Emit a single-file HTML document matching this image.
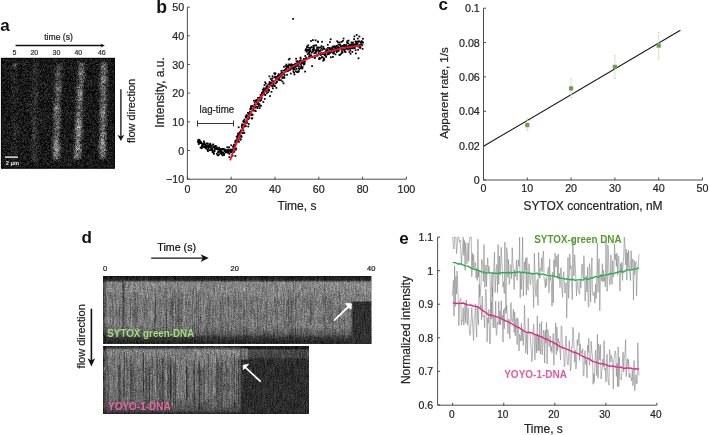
<!DOCTYPE html>
<html><head><meta charset="utf-8"><title>Figure</title>
<style>html,body{margin:0;padding:0;background:#fff;}svg{display:block;}text{font-family:"Liberation Sans", sans-serif;}</style>
</head><body>
<svg width="709" height="435" viewBox="0 0 709 435">
<defs>
<filter id="blr" x="-100%" y="-20%" width="300%" height="140%"><feGaussianBlur stdDeviation="1.8"/></filter>
<filter id="nzA" x="0" y="0" width="1" height="1" color-interpolation-filters="sRGB">
 <feTurbulence type="fractalNoise" baseFrequency="2.3" numOctaves="1" seed="4" result="t"/>
 <feGaussianBlur in="t" stdDeviation="0.65" result="tb"/>
 <feColorMatrix in="tb" type="matrix" values="1 0 0 0 0  1 0 0 0 0  1 0 0 0 0  0 0 0 0 1" result="g"/>
 <feComposite in="SourceGraphic" in2="g" operator="arithmetic" k1="1.6" k2="0.2" k3="0.5" k4="-0.25"/>
</filter>
<filter id="nzK" x="0" y="0" width="1" height="1" color-interpolation-filters="sRGB">
 <feTurbulence type="fractalNoise" baseFrequency="2.3" numOctaves="1" seed="9" result="t"/>
 <feGaussianBlur in="t" stdDeviation="0.75" result="tb"/>
 <feTurbulence type="fractalNoise" baseFrequency="1.9 0.12" numOctaves="1" seed="3" result="t2"/>
 <feComposite in="tb" in2="t2" operator="arithmetic" k1="0" k2="0.6" k3="0.4" k4="0" result="tm"/>
 <feColorMatrix in="tm" type="matrix" values="1 0 0 0 0  1 0 0 0 0  1 0 0 0 0  0 0 0 0 1" result="g"/>
 <feComposite in="SourceGraphic" in2="g" operator="arithmetic" k1="1.0" k2="0.5" k3="0.4" k4="-0.2"/>
</filter>
<linearGradient id="gTop" x1="0" y1="0" x2="0" y2="1"><stop offset="0" stop-color="#000" stop-opacity="0.8"/><stop offset="0.65" stop-color="#000" stop-opacity="0.68"/><stop offset="1" stop-color="#000" stop-opacity="0.1"/></linearGradient>
<linearGradient id="gBot" x1="0" y1="0" x2="0" y2="1"><stop offset="0" stop-color="#000" stop-opacity="0"/><stop offset="0.45" stop-color="#000" stop-opacity="0.25"/><stop offset="0.65" stop-color="#000" stop-opacity="0.55"/><stop offset="1" stop-color="#000" stop-opacity="0.75"/></linearGradient>
<linearGradient id="gUp" x1="0" y1="0" x2="0" y2="1"><stop offset="0" stop-color="#fff" stop-opacity="0.1"/><stop offset="0.6" stop-color="#fff" stop-opacity="0.06"/><stop offset="1" stop-color="#fff" stop-opacity="0"/></linearGradient>
<linearGradient id="gUp2" x1="0" y1="0" x2="0" y2="1"><stop offset="0" stop-color="#fff" stop-opacity="0.12"/><stop offset="1" stop-color="#fff" stop-opacity="0"/></linearGradient>
<linearGradient id="gTop2" x1="0" y1="0" x2="0" y2="1"><stop offset="0" stop-color="#000" stop-opacity="0.75"/><stop offset="1" stop-color="#000" stop-opacity="0"/></linearGradient>
<linearGradient id="gBot2" x1="0" y1="0" x2="0" y2="1"><stop offset="0" stop-color="#000" stop-opacity="0"/><stop offset="0.8" stop-color="#000" stop-opacity="0.35"/><stop offset="1" stop-color="#000" stop-opacity="0.7"/></linearGradient>
<linearGradient id="gTop3" x1="0" y1="0" x2="0" y2="1"><stop offset="0" stop-color="#1a1a1a"/><stop offset="0.18" stop-color="#1e1e1e"/><stop offset="0.3" stop-color="#484848"/><stop offset="0.85" stop-color="#444"/><stop offset="1" stop-color="#2c2c2c"/></linearGradient>
</defs>
<rect width="709" height="435" fill="#fff"/>
<g id="pa">
<text x="0.30" y="31.00" font-size="17" text-anchor="start" font-weight="bold" fill="#111" >a</text>
<text x="58.50" y="40.20" font-size="8.6" text-anchor="middle" font-weight="normal" fill="#222" stroke="#222" stroke-width="0.22" >time (s)</text>
<line x1="15.60" y1="45.50" x2="102.00" y2="45.50" stroke="#111" stroke-width="1.3" />
<path d="M104.8,45.5 L100.6,43.5 L101.8,45.5 L100.6,47.5 Z" fill="#111"/>
<text x="14.50" y="55.20" font-size="7" text-anchor="middle" font-weight="normal" fill="#333" stroke="#333" stroke-width="0.22" >5</text>
<text x="34.30" y="55.20" font-size="7" text-anchor="middle" font-weight="normal" fill="#333" stroke="#333" stroke-width="0.22" >20</text>
<text x="56.40" y="55.20" font-size="7" text-anchor="middle" font-weight="normal" fill="#333" stroke="#333" stroke-width="0.22" >30</text>
<text x="78.30" y="55.20" font-size="7" text-anchor="middle" font-weight="normal" fill="#333" stroke="#333" stroke-width="0.22" >40</text>
<text x="101.80" y="55.20" font-size="7" text-anchor="middle" font-weight="normal" fill="#333" stroke="#333" stroke-width="0.22" >46</text>
<g filter="url(#nzA)">
<rect x="1.3" y="58.2" width="113.3" height="110.0" fill="#181818"/>
<path d="M13.1,68.0 L17.1,68.0 L17.0,75.5 L13.0,75.5 Z" fill="rgb(34,34,34)" filter="url(#blr)"/>
<path d="M12.9,74.9 L16.9,74.9 L16.9,82.5 L12.9,82.5 Z" fill="rgb(37,37,37)" filter="url(#blr)"/>
<path d="M13.0,81.9 L17.0,81.9 L17.0,89.4 L13.0,89.4 Z" fill="rgb(36,36,36)" filter="url(#blr)"/>
<path d="M12.9,88.8 L16.9,88.8 L16.9,96.3 L12.9,96.3 Z" fill="rgb(35,35,35)" filter="url(#blr)"/>
<path d="M13.2,95.7 L17.2,95.7 L17.1,103.2 L13.1,103.2 Z" fill="rgb(37,37,37)" filter="url(#blr)"/>
<path d="M12.6,102.6 L16.6,102.6 L16.6,110.2 L12.6,110.2 Z" fill="rgb(36,36,36)" filter="url(#blr)"/>
<path d="M13.1,109.6 L17.1,109.6 L17.1,117.1 L13.1,117.1 Z" fill="rgb(36,36,36)" filter="url(#blr)"/>
<path d="M12.3,116.5 L16.3,116.5 L16.3,124.0 L12.3,124.0 Z" fill="rgb(40,40,40)" filter="url(#blr)"/>
<path d="M13.2,123.4 L17.2,123.4 L17.1,131.0 L13.1,131.0 Z" fill="rgb(42,42,42)" filter="url(#blr)"/>
<path d="M12.8,130.4 L16.8,130.4 L16.8,137.9 L12.8,137.9 Z" fill="rgb(41,41,41)" filter="url(#blr)"/>
<path d="M12.2,137.3 L16.2,137.3 L16.1,144.8 L12.1,144.8 Z" fill="rgb(38,38,38)" filter="url(#blr)"/>
<path d="M12.2,144.2 L16.2,144.2 L16.1,151.7 L12.1,151.7 Z" fill="rgb(41,41,41)" filter="url(#blr)"/>
<path d="M12.3,151.1 L16.3,151.1 L16.3,158.7 L12.3,158.7 Z" fill="rgb(39,39,39)" filter="url(#blr)"/>
<path d="M12.5,158.1 L16.5,158.1 L16.5,165.6 L12.5,165.6 Z" fill="rgb(38,38,38)" filter="url(#blr)"/>
<path d="M32.7,62.0 L37.9,62.0 L37.9,69.6 L32.7,69.6 Z" fill="rgb(45,45,45)" filter="url(#blr)"/>
<path d="M32.5,69.0 L37.7,69.0 L37.7,76.6 L32.5,76.6 Z" fill="rgb(46,46,46)" filter="url(#blr)"/>
<path d="M32.5,76.0 L37.7,76.0 L37.7,83.6 L32.5,83.6 Z" fill="rgb(47,47,47)" filter="url(#blr)"/>
<path d="M32.1,83.0 L37.3,83.0 L37.2,90.6 L32.0,90.6 Z" fill="rgb(47,47,47)" filter="url(#blr)"/>
<path d="M32.8,90.0 L38.0,90.0 L37.9,97.6 L32.7,97.6 Z" fill="rgb(53,53,53)" filter="url(#blr)"/>
<path d="M32.4,97.0 L37.6,97.0 L37.6,104.6 L32.4,104.6 Z" fill="rgb(52,52,52)" filter="url(#blr)"/>
<path d="M31.9,104.0 L37.1,104.0 L37.1,111.6 L31.9,111.6 Z" fill="rgb(46,46,46)" filter="url(#blr)"/>
<path d="M31.7,111.0 L36.9,111.0 L36.9,118.6 L31.7,118.6 Z" fill="rgb(46,46,46)" filter="url(#blr)"/>
<path d="M32.0,118.0 L37.2,118.0 L37.2,125.6 L32.0,125.6 Z" fill="rgb(53,53,53)" filter="url(#blr)"/>
<path d="M32.0,125.0 L37.2,125.0 L37.1,132.6 L31.9,132.6 Z" fill="rgb(54,54,54)" filter="url(#blr)"/>
<path d="M32.4,132.0 L37.6,132.0 L37.6,139.6 L32.4,139.6 Z" fill="rgb(56,56,56)" filter="url(#blr)"/>
<path d="M31.7,139.0 L36.9,139.0 L36.9,146.6 L31.7,146.6 Z" fill="rgb(44,44,44)" filter="url(#blr)"/>
<path d="M31.9,146.0 L37.1,146.0 L37.1,153.6 L31.9,153.6 Z" fill="rgb(57,57,57)" filter="url(#blr)"/>
<path d="M31.8,153.0 L37.0,153.0 L37.0,160.6 L31.8,160.6 Z" fill="rgb(58,58,58)" filter="url(#blr)"/>
<path d="M55.8,64.0 L61.6,64.0 L61.4,71.3 L55.6,71.3 Z" fill="rgb(67,67,67)" filter="url(#blr)"/>
<path d="M55.3,70.8 L61.1,70.8 L60.9,78.1 L55.1,78.1 Z" fill="rgb(94,94,94)" filter="url(#blr)"/>
<path d="M55.1,77.5 L60.9,77.5 L60.8,84.8 L55.0,84.8 Z" fill="rgb(74,74,74)" filter="url(#blr)"/>
<path d="M55.4,84.2 L61.2,84.2 L61.0,91.6 L55.2,91.6 Z" fill="rgb(111,111,111)" filter="url(#blr)"/>
<path d="M54.7,91.0 L60.5,91.0 L60.3,98.3 L54.5,98.3 Z" fill="rgb(82,82,82)" filter="url(#blr)"/>
<path d="M54.3,97.8 L60.1,97.8 L59.9,105.1 L54.1,105.1 Z" fill="rgb(85,85,85)" filter="url(#blr)"/>
<path d="M54.2,104.5 L60.0,104.5 L59.8,111.8 L54.0,111.8 Z" fill="rgb(121,121,121)" filter="url(#blr)"/>
<path d="M54.3,111.2 L60.1,111.2 L59.9,118.6 L54.1,118.6 Z" fill="rgb(115,115,115)" filter="url(#blr)"/>
<path d="M54.4,118.0 L60.2,118.0 L60.0,125.3 L54.2,125.3 Z" fill="rgb(100,100,100)" filter="url(#blr)"/>
<path d="M54.1,124.8 L59.9,124.8 L59.7,132.1 L53.9,132.1 Z" fill="rgb(101,101,101)" filter="url(#blr)"/>
<path d="M53.7,131.5 L59.5,131.5 L59.3,138.8 L53.5,138.8 Z" fill="rgb(103,103,103)" filter="url(#blr)"/>
<path d="M53.3,138.2 L59.1,138.2 L59.0,145.6 L53.2,145.6 Z" fill="rgb(113,113,113)" filter="url(#blr)"/>
<path d="M53.7,145.0 L59.5,145.0 L59.3,152.3 L53.5,152.3 Z" fill="rgb(164,164,164)" filter="url(#blr)"/>
<path d="M53.6,151.8 L59.4,151.8 L59.2,159.1 L53.4,159.1 Z" fill="rgb(126,126,126)" filter="url(#blr)"/>
<path d="M78.4,63.0 L84.2,63.0 L83.9,70.4 L78.1,70.4 Z" fill="rgb(97,97,97)" filter="url(#blr)"/>
<path d="M78.4,69.8 L84.2,69.8 L83.9,77.2 L78.1,77.2 Z" fill="rgb(131,131,131)" filter="url(#blr)"/>
<path d="M78.4,76.6 L84.2,76.6 L83.9,84.1 L78.1,84.1 Z" fill="rgb(95,95,95)" filter="url(#blr)"/>
<path d="M77.4,83.5 L83.2,83.5 L82.9,90.9 L77.1,90.9 Z" fill="rgb(103,103,103)" filter="url(#blr)"/>
<path d="M77.2,90.3 L83.0,90.3 L82.7,97.7 L76.9,97.7 Z" fill="rgb(136,136,136)" filter="url(#blr)"/>
<path d="M76.6,97.1 L82.4,97.1 L82.2,104.5 L76.4,104.5 Z" fill="rgb(112,112,112)" filter="url(#blr)"/>
<path d="M76.9,103.9 L82.7,103.9 L82.4,111.3 L76.6,111.3 Z" fill="rgb(102,102,102)" filter="url(#blr)"/>
<path d="M76.6,110.8 L82.4,110.8 L82.1,118.2 L76.3,118.2 Z" fill="rgb(113,113,113)" filter="url(#blr)"/>
<path d="M76.2,117.6 L82.0,117.6 L81.7,125.0 L75.9,125.0 Z" fill="rgb(123,123,123)" filter="url(#blr)"/>
<path d="M75.9,124.4 L81.7,124.4 L81.4,131.8 L75.6,131.8 Z" fill="rgb(162,162,162)" filter="url(#blr)"/>
<path d="M76.0,131.2 L81.8,131.2 L81.5,138.6 L75.7,138.6 Z" fill="rgb(141,141,141)" filter="url(#blr)"/>
<path d="M75.0,138.0 L80.8,138.0 L80.5,145.5 L74.7,145.5 Z" fill="rgb(118,118,118)" filter="url(#blr)"/>
<path d="M75.4,144.9 L81.2,144.9 L80.9,152.3 L75.1,152.3 Z" fill="rgb(168,168,168)" filter="url(#blr)"/>
<path d="M74.5,151.7 L80.3,151.7 L80.0,159.1 L74.2,159.1 Z" fill="rgb(126,126,126)" filter="url(#blr)"/>
<path d="M101.0,63.0 L106.6,63.0 L106.6,70.4 L101.0,70.4 Z" fill="rgb(131,131,131)" filter="url(#blr)"/>
<path d="M101.0,69.8 L106.6,69.8 L106.6,77.2 L101.0,77.2 Z" fill="rgb(104,104,104)" filter="url(#blr)"/>
<path d="M100.6,76.6 L106.2,76.6 L106.2,84.0 L100.6,84.0 Z" fill="rgb(143,143,143)" filter="url(#blr)"/>
<path d="M100.1,83.4 L105.7,83.4 L105.6,90.7 L100.0,90.7 Z" fill="rgb(119,119,119)" filter="url(#blr)"/>
<path d="M100.9,90.1 L106.5,90.1 L106.4,97.5 L100.8,97.5 Z" fill="rgb(99,99,99)" filter="url(#blr)"/>
<path d="M100.6,96.9 L106.2,96.9 L106.1,104.3 L100.5,104.3 Z" fill="rgb(112,112,112)" filter="url(#blr)"/>
<path d="M100.7,103.7 L106.3,103.7 L106.2,111.1 L100.6,111.1 Z" fill="rgb(114,114,114)" filter="url(#blr)"/>
<path d="M100.1,110.5 L105.7,110.5 L105.7,117.9 L100.1,117.9 Z" fill="rgb(136,136,136)" filter="url(#blr)"/>
<path d="M100.5,117.3 L106.1,117.3 L106.0,124.7 L100.4,124.7 Z" fill="rgb(112,112,112)" filter="url(#blr)"/>
<path d="M99.9,124.1 L105.5,124.1 L105.5,131.5 L99.9,131.5 Z" fill="rgb(107,107,107)" filter="url(#blr)"/>
<path d="M100.5,130.9 L106.1,130.9 L106.1,138.2 L100.5,138.2 Z" fill="rgb(139,139,139)" filter="url(#blr)"/>
<path d="M99.9,137.6 L105.5,137.6 L105.5,145.0 L99.9,145.0 Z" fill="rgb(145,145,145)" filter="url(#blr)"/>
<path d="M99.8,144.4 L105.4,144.4 L105.3,151.8 L99.7,151.8 Z" fill="rgb(166,166,166)" filter="url(#blr)"/>
<path d="M99.8,151.2 L105.4,151.2 L105.4,158.6 L99.8,158.6 Z" fill="rgb(108,108,108)" filter="url(#blr)"/>
<circle cx="14.8" cy="65.5" r="1.8" fill="#a0a0a0" filter="url(#blr)"/>
</g>
<rect x="1.5" y="58.4" width="112.9" height="109.6" fill="none" stroke="#0a0a0a" stroke-width="1.2"/>
<line x1="5.00" y1="157.10" x2="18.00" y2="157.10" stroke="#eee" stroke-width="1.4" />
<text x="5.80" y="165.20" font-size="5.7" text-anchor="start" font-weight="bold" fill="#eee" >2 μm</text>
<line x1="120.90" y1="89.30" x2="120.90" y2="137.00" stroke="#111" stroke-width="1.3" />
<path d="M120.9,141.0 L117.4,134.8 L120.9,136.6 L124.3,134.8 Z" fill="#111"/>
<text x="0.00" y="0.00" font-size="11" text-anchor="middle" font-weight="normal" fill="#222" stroke="#222" stroke-width="0.22" transform="translate(134.5,110.9) rotate(-90)">flow direction</text>
</g>
<g id="pb">
<text x="156.30" y="12.70" font-size="17.6" text-anchor="start" font-weight="bold" fill="#111" >b</text>
<g fill="#000"><rect x="197.1" y="140.8" width="1.75" height="1.75"/><rect x="197.3" y="139.2" width="1.75" height="1.75"/><rect x="197.5" y="141.1" width="1.75" height="1.75"/><rect x="197.7" y="141.6" width="1.75" height="1.75"/><rect x="197.9" y="143.2" width="1.75" height="1.75"/><rect x="198.2" y="141.8" width="1.75" height="1.75"/><rect x="198.4" y="138.9" width="1.75" height="1.75"/><rect x="198.6" y="140.7" width="1.75" height="1.75"/><rect x="198.8" y="139.5" width="1.75" height="1.75"/><rect x="199.0" y="141.6" width="1.75" height="1.75"/><rect x="199.3" y="141.4" width="1.75" height="1.75"/><rect x="199.5" y="142.1" width="1.75" height="1.75"/><rect x="199.7" y="146.6" width="1.75" height="1.75"/><rect x="199.9" y="140.9" width="1.75" height="1.75"/><rect x="200.1" y="141.8" width="1.75" height="1.75"/><rect x="200.3" y="142.0" width="1.75" height="1.75"/><rect x="200.6" y="147.1" width="1.75" height="1.75"/><rect x="200.8" y="147.3" width="1.75" height="1.75"/><rect x="201.0" y="145.5" width="1.75" height="1.75"/><rect x="201.2" y="144.6" width="1.75" height="1.75"/><rect x="201.4" y="143.0" width="1.75" height="1.75"/><rect x="201.7" y="143.9" width="1.75" height="1.75"/><rect x="201.9" y="142.7" width="1.75" height="1.75"/><rect x="202.1" y="145.5" width="1.75" height="1.75"/><rect x="202.3" y="143.4" width="1.75" height="1.75"/><rect x="202.5" y="143.4" width="1.75" height="1.75"/><rect x="202.8" y="145.9" width="1.75" height="1.75"/><rect x="203.0" y="140.5" width="1.75" height="1.75"/><rect x="203.2" y="143.3" width="1.75" height="1.75"/><rect x="203.4" y="142.0" width="1.75" height="1.75"/><rect x="203.6" y="146.3" width="1.75" height="1.75"/><rect x="203.9" y="146.6" width="1.75" height="1.75"/><rect x="204.1" y="145.9" width="1.75" height="1.75"/><rect x="204.3" y="145.3" width="1.75" height="1.75"/><rect x="204.5" y="143.7" width="1.75" height="1.75"/><rect x="204.7" y="144.6" width="1.75" height="1.75"/><rect x="204.9" y="146.3" width="1.75" height="1.75"/><rect x="205.2" y="147.5" width="1.75" height="1.75"/><rect x="205.4" y="146.5" width="1.75" height="1.75"/><rect x="205.6" y="142.6" width="1.75" height="1.75"/><rect x="205.8" y="147.3" width="1.75" height="1.75"/><rect x="206.0" y="144.9" width="1.75" height="1.75"/><rect x="206.3" y="144.5" width="1.75" height="1.75"/><rect x="206.5" y="149.0" width="1.75" height="1.75"/><rect x="206.7" y="145.5" width="1.75" height="1.75"/><rect x="206.9" y="142.6" width="1.75" height="1.75"/><rect x="207.1" y="150.3" width="1.75" height="1.75"/><rect x="207.4" y="146.4" width="1.75" height="1.75"/><rect x="207.6" y="146.0" width="1.75" height="1.75"/><rect x="207.8" y="147.7" width="1.75" height="1.75"/><rect x="208.0" y="144.7" width="1.75" height="1.75"/><rect x="208.2" y="146.0" width="1.75" height="1.75"/><rect x="208.4" y="149.3" width="1.75" height="1.75"/><rect x="208.7" y="144.1" width="1.75" height="1.75"/><rect x="208.9" y="144.5" width="1.75" height="1.75"/><rect x="209.1" y="143.9" width="1.75" height="1.75"/><rect x="209.3" y="142.8" width="1.75" height="1.75"/><rect x="209.5" y="145.4" width="1.75" height="1.75"/><rect x="209.8" y="146.0" width="1.75" height="1.75"/><rect x="210.0" y="149.3" width="1.75" height="1.75"/><rect x="210.2" y="145.0" width="1.75" height="1.75"/><rect x="210.4" y="147.8" width="1.75" height="1.75"/><rect x="210.6" y="147.5" width="1.75" height="1.75"/><rect x="210.9" y="149.5" width="1.75" height="1.75"/><rect x="211.1" y="148.8" width="1.75" height="1.75"/><rect x="211.3" y="147.9" width="1.75" height="1.75"/><rect x="211.5" y="143.8" width="1.75" height="1.75"/><rect x="211.7" y="151.4" width="1.75" height="1.75"/><rect x="212.0" y="150.2" width="1.75" height="1.75"/><rect x="212.2" y="146.3" width="1.75" height="1.75"/><rect x="212.4" y="143.6" width="1.75" height="1.75"/><rect x="212.6" y="145.7" width="1.75" height="1.75"/><rect x="212.8" y="151.4" width="1.75" height="1.75"/><rect x="213.0" y="153.0" width="1.75" height="1.75"/><rect x="213.3" y="146.6" width="1.75" height="1.75"/><rect x="213.5" y="149.2" width="1.75" height="1.75"/><rect x="213.7" y="150.3" width="1.75" height="1.75"/><rect x="213.9" y="145.6" width="1.75" height="1.75"/><rect x="214.1" y="145.5" width="1.75" height="1.75"/><rect x="214.4" y="147.8" width="1.75" height="1.75"/><rect x="214.6" y="147.8" width="1.75" height="1.75"/><rect x="214.8" y="147.5" width="1.75" height="1.75"/><rect x="215.0" y="145.0" width="1.75" height="1.75"/><rect x="215.2" y="147.4" width="1.75" height="1.75"/><rect x="215.5" y="147.8" width="1.75" height="1.75"/><rect x="215.7" y="147.9" width="1.75" height="1.75"/><rect x="215.9" y="152.9" width="1.75" height="1.75"/><rect x="216.1" y="146.5" width="1.75" height="1.75"/><rect x="216.3" y="147.4" width="1.75" height="1.75"/><rect x="216.6" y="148.5" width="1.75" height="1.75"/><rect x="216.8" y="154.4" width="1.75" height="1.75"/><rect x="217.0" y="151.5" width="1.75" height="1.75"/><rect x="217.2" y="148.3" width="1.75" height="1.75"/><rect x="217.4" y="154.4" width="1.75" height="1.75"/><rect x="217.6" y="150.8" width="1.75" height="1.75"/><rect x="217.9" y="148.1" width="1.75" height="1.75"/><rect x="218.1" y="153.5" width="1.75" height="1.75"/><rect x="218.3" y="146.8" width="1.75" height="1.75"/><rect x="218.5" y="149.3" width="1.75" height="1.75"/><rect x="218.7" y="151.0" width="1.75" height="1.75"/><rect x="219.0" y="149.9" width="1.75" height="1.75"/><rect x="219.2" y="149.2" width="1.75" height="1.75"/><rect x="219.4" y="150.5" width="1.75" height="1.75"/><rect x="219.6" y="148.2" width="1.75" height="1.75"/><rect x="219.8" y="152.4" width="1.75" height="1.75"/><rect x="220.1" y="151.9" width="1.75" height="1.75"/><rect x="220.3" y="148.6" width="1.75" height="1.75"/><rect x="220.5" y="151.0" width="1.75" height="1.75"/><rect x="220.7" y="153.2" width="1.75" height="1.75"/><rect x="220.9" y="149.0" width="1.75" height="1.75"/><rect x="221.2" y="147.9" width="1.75" height="1.75"/><rect x="221.4" y="152.3" width="1.75" height="1.75"/><rect x="221.6" y="154.5" width="1.75" height="1.75"/><rect x="221.8" y="151.7" width="1.75" height="1.75"/><rect x="222.0" y="151.7" width="1.75" height="1.75"/><rect x="222.2" y="152.0" width="1.75" height="1.75"/><rect x="222.5" y="148.1" width="1.75" height="1.75"/><rect x="222.7" y="153.7" width="1.75" height="1.75"/><rect x="222.9" y="148.4" width="1.75" height="1.75"/><rect x="223.1" y="154.2" width="1.75" height="1.75"/><rect x="223.3" y="153.1" width="1.75" height="1.75"/><rect x="223.6" y="149.8" width="1.75" height="1.75"/><rect x="223.8" y="148.6" width="1.75" height="1.75"/><rect x="224.0" y="149.2" width="1.75" height="1.75"/><rect x="224.2" y="150.4" width="1.75" height="1.75"/><rect x="224.4" y="150.9" width="1.75" height="1.75"/><rect x="224.7" y="150.8" width="1.75" height="1.75"/><rect x="224.9" y="149.8" width="1.75" height="1.75"/><rect x="225.1" y="151.5" width="1.75" height="1.75"/><rect x="225.3" y="150.5" width="1.75" height="1.75"/><rect x="225.5" y="149.8" width="1.75" height="1.75"/><rect x="225.8" y="151.1" width="1.75" height="1.75"/><rect x="226.0" y="149.3" width="1.75" height="1.75"/><rect x="226.2" y="149.7" width="1.75" height="1.75"/><rect x="226.4" y="146.4" width="1.75" height="1.75"/><rect x="226.6" y="150.2" width="1.75" height="1.75"/><rect x="226.8" y="151.8" width="1.75" height="1.75"/><rect x="227.1" y="151.7" width="1.75" height="1.75"/><rect x="227.3" y="150.8" width="1.75" height="1.75"/><rect x="227.5" y="148.6" width="1.75" height="1.75"/><rect x="227.7" y="151.4" width="1.75" height="1.75"/><rect x="227.9" y="149.7" width="1.75" height="1.75"/><rect x="228.2" y="146.3" width="1.75" height="1.75"/><rect x="228.4" y="156.3" width="1.75" height="1.75"/><rect x="228.6" y="153.0" width="1.75" height="1.75"/><rect x="228.8" y="149.8" width="1.75" height="1.75"/><rect x="229.0" y="149.4" width="1.75" height="1.75"/><rect x="229.3" y="149.7" width="1.75" height="1.75"/><rect x="229.5" y="151.2" width="1.75" height="1.75"/><rect x="229.7" y="148.6" width="1.75" height="1.75"/><rect x="229.9" y="149.4" width="1.75" height="1.75"/><rect x="230.1" y="151.2" width="1.75" height="1.75"/><rect x="230.4" y="144.4" width="1.75" height="1.75"/><rect x="230.6" y="148.9" width="1.75" height="1.75"/><rect x="230.8" y="150.8" width="1.75" height="1.75"/><rect x="231.0" y="149.5" width="1.75" height="1.75"/><rect x="231.2" y="149.6" width="1.75" height="1.75"/><rect x="231.4" y="149.0" width="1.75" height="1.75"/><rect x="231.7" y="154.9" width="1.75" height="1.75"/><rect x="231.9" y="149.6" width="1.75" height="1.75"/><rect x="232.1" y="145.9" width="1.75" height="1.75"/><rect x="232.3" y="150.7" width="1.75" height="1.75"/><rect x="232.5" y="148.0" width="1.75" height="1.75"/><rect x="232.8" y="145.4" width="1.75" height="1.75"/><rect x="233.0" y="145.4" width="1.75" height="1.75"/><rect x="233.2" y="143.8" width="1.75" height="1.75"/><rect x="233.4" y="150.9" width="1.75" height="1.75"/><rect x="233.6" y="148.7" width="1.75" height="1.75"/><rect x="233.9" y="148.0" width="1.75" height="1.75"/><rect x="234.1" y="143.6" width="1.75" height="1.75"/><rect x="234.3" y="141.1" width="1.75" height="1.75"/><rect x="234.5" y="155.0" width="1.75" height="1.75"/><rect x="234.7" y="139.7" width="1.75" height="1.75"/><rect x="234.9" y="148.8" width="1.75" height="1.75"/><rect x="235.2" y="139.9" width="1.75" height="1.75"/><rect x="235.4" y="147.6" width="1.75" height="1.75"/><rect x="235.6" y="140.5" width="1.75" height="1.75"/><rect x="235.8" y="135.8" width="1.75" height="1.75"/><rect x="236.0" y="140.4" width="1.75" height="1.75"/><rect x="236.3" y="138.4" width="1.75" height="1.75"/><rect x="236.5" y="135.3" width="1.75" height="1.75"/><rect x="236.7" y="137.2" width="1.75" height="1.75"/><rect x="236.9" y="139.5" width="1.75" height="1.75"/><rect x="237.1" y="132.7" width="1.75" height="1.75"/><rect x="237.4" y="134.0" width="1.75" height="1.75"/><rect x="237.6" y="138.7" width="1.75" height="1.75"/><rect x="237.8" y="126.4" width="1.75" height="1.75"/><rect x="238.0" y="141.0" width="1.75" height="1.75"/><rect x="238.2" y="132.5" width="1.75" height="1.75"/><rect x="238.5" y="136.5" width="1.75" height="1.75"/><rect x="238.7" y="134.5" width="1.75" height="1.75"/><rect x="238.9" y="131.8" width="1.75" height="1.75"/><rect x="239.1" y="133.1" width="1.75" height="1.75"/><rect x="239.3" y="131.0" width="1.75" height="1.75"/><rect x="239.5" y="138.9" width="1.75" height="1.75"/><rect x="239.8" y="138.3" width="1.75" height="1.75"/><rect x="240.0" y="129.6" width="1.75" height="1.75"/><rect x="240.2" y="135.2" width="1.75" height="1.75"/><rect x="240.4" y="135.0" width="1.75" height="1.75"/><rect x="240.6" y="136.2" width="1.75" height="1.75"/><rect x="240.9" y="125.1" width="1.75" height="1.75"/><rect x="241.1" y="126.7" width="1.75" height="1.75"/><rect x="241.3" y="123.4" width="1.75" height="1.75"/><rect x="241.5" y="132.2" width="1.75" height="1.75"/><rect x="241.7" y="128.1" width="1.75" height="1.75"/><rect x="242.0" y="132.1" width="1.75" height="1.75"/><rect x="242.2" y="124.2" width="1.75" height="1.75"/><rect x="242.4" y="120.6" width="1.75" height="1.75"/><rect x="242.6" y="129.7" width="1.75" height="1.75"/><rect x="242.8" y="119.8" width="1.75" height="1.75"/><rect x="243.1" y="121.5" width="1.75" height="1.75"/><rect x="243.3" y="125.6" width="1.75" height="1.75"/><rect x="243.5" y="132.1" width="1.75" height="1.75"/><rect x="243.7" y="118.6" width="1.75" height="1.75"/><rect x="243.9" y="123.9" width="1.75" height="1.75"/><rect x="244.1" y="125.4" width="1.75" height="1.75"/><rect x="244.4" y="121.1" width="1.75" height="1.75"/><rect x="244.6" y="120.6" width="1.75" height="1.75"/><rect x="244.8" y="116.0" width="1.75" height="1.75"/><rect x="245.0" y="125.3" width="1.75" height="1.75"/><rect x="245.2" y="116.5" width="1.75" height="1.75"/><rect x="245.5" y="114.7" width="1.75" height="1.75"/><rect x="245.7" y="114.4" width="1.75" height="1.75"/><rect x="245.9" y="120.3" width="1.75" height="1.75"/><rect x="246.1" y="122.1" width="1.75" height="1.75"/><rect x="246.3" y="114.8" width="1.75" height="1.75"/><rect x="246.6" y="117.9" width="1.75" height="1.75"/><rect x="246.8" y="117.5" width="1.75" height="1.75"/><rect x="247.0" y="112.0" width="1.75" height="1.75"/><rect x="247.2" y="118.1" width="1.75" height="1.75"/><rect x="247.4" y="125.6" width="1.75" height="1.75"/><rect x="247.7" y="117.8" width="1.75" height="1.75"/><rect x="247.9" y="123.1" width="1.75" height="1.75"/><rect x="248.1" y="112.3" width="1.75" height="1.75"/><rect x="248.3" y="113.8" width="1.75" height="1.75"/><rect x="248.5" y="117.0" width="1.75" height="1.75"/><rect x="248.7" y="114.3" width="1.75" height="1.75"/><rect x="249.0" y="110.7" width="1.75" height="1.75"/><rect x="249.2" y="113.2" width="1.75" height="1.75"/><rect x="249.4" y="108.0" width="1.75" height="1.75"/><rect x="249.6" y="112.9" width="1.75" height="1.75"/><rect x="249.8" y="108.3" width="1.75" height="1.75"/><rect x="250.1" y="106.2" width="1.75" height="1.75"/><rect x="250.3" y="105.3" width="1.75" height="1.75"/><rect x="250.5" y="113.8" width="1.75" height="1.75"/><rect x="250.7" y="107.4" width="1.75" height="1.75"/><rect x="250.9" y="117.7" width="1.75" height="1.75"/><rect x="251.2" y="114.2" width="1.75" height="1.75"/><rect x="251.4" y="117.3" width="1.75" height="1.75"/><rect x="251.6" y="105.1" width="1.75" height="1.75"/><rect x="251.8" y="113.7" width="1.75" height="1.75"/><rect x="252.0" y="108.6" width="1.75" height="1.75"/><rect x="252.3" y="108.9" width="1.75" height="1.75"/><rect x="252.5" y="107.9" width="1.75" height="1.75"/><rect x="252.7" y="109.7" width="1.75" height="1.75"/><rect x="252.9" y="106.2" width="1.75" height="1.75"/><rect x="253.1" y="99.8" width="1.75" height="1.75"/><rect x="253.3" y="106.2" width="1.75" height="1.75"/><rect x="253.6" y="104.0" width="1.75" height="1.75"/><rect x="253.8" y="101.8" width="1.75" height="1.75"/><rect x="254.0" y="106.1" width="1.75" height="1.75"/><rect x="254.2" y="109.8" width="1.75" height="1.75"/><rect x="254.4" y="106.8" width="1.75" height="1.75"/><rect x="254.7" y="100.1" width="1.75" height="1.75"/><rect x="254.9" y="110.3" width="1.75" height="1.75"/><rect x="255.1" y="105.9" width="1.75" height="1.75"/><rect x="255.3" y="99.4" width="1.75" height="1.75"/><rect x="255.5" y="99.8" width="1.75" height="1.75"/><rect x="255.8" y="102.6" width="1.75" height="1.75"/><rect x="256.0" y="99.1" width="1.75" height="1.75"/><rect x="256.2" y="101.3" width="1.75" height="1.75"/><rect x="256.4" y="106.1" width="1.75" height="1.75"/><rect x="256.6" y="107.3" width="1.75" height="1.75"/><rect x="256.8" y="103.4" width="1.75" height="1.75"/><rect x="257.1" y="97.0" width="1.75" height="1.75"/><rect x="257.3" y="102.5" width="1.75" height="1.75"/><rect x="257.5" y="103.4" width="1.75" height="1.75"/><rect x="257.7" y="102.6" width="1.75" height="1.75"/><rect x="257.9" y="105.2" width="1.75" height="1.75"/><rect x="258.2" y="99.5" width="1.75" height="1.75"/><rect x="258.4" y="103.3" width="1.75" height="1.75"/><rect x="258.6" y="97.0" width="1.75" height="1.75"/><rect x="258.8" y="107.2" width="1.75" height="1.75"/><rect x="259.0" y="96.5" width="1.75" height="1.75"/><rect x="259.3" y="99.9" width="1.75" height="1.75"/><rect x="259.5" y="104.7" width="1.75" height="1.75"/><rect x="259.7" y="94.0" width="1.75" height="1.75"/><rect x="259.9" y="97.6" width="1.75" height="1.75"/><rect x="260.1" y="104.9" width="1.75" height="1.75"/><rect x="260.4" y="99.3" width="1.75" height="1.75"/><rect x="260.6" y="94.5" width="1.75" height="1.75"/><rect x="260.8" y="97.1" width="1.75" height="1.75"/><rect x="261.0" y="92.0" width="1.75" height="1.75"/><rect x="261.2" y="91.8" width="1.75" height="1.75"/><rect x="261.4" y="91.9" width="1.75" height="1.75"/><rect x="261.7" y="92.9" width="1.75" height="1.75"/><rect x="261.9" y="88.7" width="1.75" height="1.75"/><rect x="262.1" y="91.0" width="1.75" height="1.75"/><rect x="262.3" y="91.5" width="1.75" height="1.75"/><rect x="262.5" y="101.1" width="1.75" height="1.75"/><rect x="262.8" y="89.2" width="1.75" height="1.75"/><rect x="263.0" y="87.4" width="1.75" height="1.75"/><rect x="263.2" y="93.3" width="1.75" height="1.75"/><rect x="263.4" y="93.7" width="1.75" height="1.75"/><rect x="263.6" y="84.1" width="1.75" height="1.75"/><rect x="263.9" y="98.1" width="1.75" height="1.75"/><rect x="264.1" y="89.2" width="1.75" height="1.75"/><rect x="264.3" y="81.4" width="1.75" height="1.75"/><rect x="264.5" y="94.1" width="1.75" height="1.75"/><rect x="264.7" y="87.6" width="1.75" height="1.75"/><rect x="265.0" y="82.7" width="1.75" height="1.75"/><rect x="265.2" y="90.2" width="1.75" height="1.75"/><rect x="265.4" y="87.3" width="1.75" height="1.75"/><rect x="265.6" y="85.7" width="1.75" height="1.75"/><rect x="265.8" y="92.4" width="1.75" height="1.75"/><rect x="266.0" y="89.0" width="1.75" height="1.75"/><rect x="266.3" y="87.2" width="1.75" height="1.75"/><rect x="266.5" y="84.9" width="1.75" height="1.75"/><rect x="266.7" y="88.0" width="1.75" height="1.75"/><rect x="266.9" y="88.4" width="1.75" height="1.75"/><rect x="267.1" y="91.3" width="1.75" height="1.75"/><rect x="267.4" y="88.5" width="1.75" height="1.75"/><rect x="267.6" y="83.4" width="1.75" height="1.75"/><rect x="267.8" y="86.2" width="1.75" height="1.75"/><rect x="268.0" y="89.7" width="1.75" height="1.75"/><rect x="268.2" y="89.4" width="1.75" height="1.75"/><rect x="268.5" y="75.5" width="1.75" height="1.75"/><rect x="268.7" y="81.2" width="1.75" height="1.75"/><rect x="268.9" y="82.9" width="1.75" height="1.75"/><rect x="269.1" y="95.2" width="1.75" height="1.75"/><rect x="269.3" y="82.5" width="1.75" height="1.75"/><rect x="269.6" y="82.8" width="1.75" height="1.75"/><rect x="269.8" y="77.9" width="1.75" height="1.75"/><rect x="270.0" y="82.5" width="1.75" height="1.75"/><rect x="270.2" y="84.2" width="1.75" height="1.75"/><rect x="270.4" y="81.7" width="1.75" height="1.75"/><rect x="270.6" y="91.0" width="1.75" height="1.75"/><rect x="270.9" y="79.2" width="1.75" height="1.75"/><rect x="271.1" y="81.7" width="1.75" height="1.75"/><rect x="271.3" y="85.5" width="1.75" height="1.75"/><rect x="271.5" y="77.4" width="1.75" height="1.75"/><rect x="271.7" y="75.3" width="1.75" height="1.75"/><rect x="272.0" y="87.5" width="1.75" height="1.75"/><rect x="272.2" y="84.4" width="1.75" height="1.75"/><rect x="272.4" y="80.5" width="1.75" height="1.75"/><rect x="272.6" y="80.7" width="1.75" height="1.75"/><rect x="272.8" y="82.7" width="1.75" height="1.75"/><rect x="273.1" y="84.7" width="1.75" height="1.75"/><rect x="273.3" y="72.5" width="1.75" height="1.75"/><rect x="273.5" y="76.5" width="1.75" height="1.75"/><rect x="273.7" y="84.9" width="1.75" height="1.75"/><rect x="273.9" y="85.3" width="1.75" height="1.75"/><rect x="274.2" y="73.3" width="1.75" height="1.75"/><rect x="274.4" y="75.8" width="1.75" height="1.75"/><rect x="274.6" y="72.4" width="1.75" height="1.75"/><rect x="274.8" y="76.1" width="1.75" height="1.75"/><rect x="275.0" y="82.4" width="1.75" height="1.75"/><rect x="275.2" y="77.8" width="1.75" height="1.75"/><rect x="275.5" y="87.0" width="1.75" height="1.75"/><rect x="275.7" y="81.3" width="1.75" height="1.75"/><rect x="275.9" y="78.4" width="1.75" height="1.75"/><rect x="276.1" y="76.0" width="1.75" height="1.75"/><rect x="276.3" y="80.6" width="1.75" height="1.75"/><rect x="276.6" y="78.1" width="1.75" height="1.75"/><rect x="276.8" y="75.6" width="1.75" height="1.75"/><rect x="277.0" y="75.7" width="1.75" height="1.75"/><rect x="277.2" y="74.5" width="1.75" height="1.75"/><rect x="277.4" y="76.0" width="1.75" height="1.75"/><rect x="277.7" y="77.8" width="1.75" height="1.75"/><rect x="277.9" y="73.3" width="1.75" height="1.75"/><rect x="278.1" y="76.0" width="1.75" height="1.75"/><rect x="278.3" y="79.2" width="1.75" height="1.75"/><rect x="278.5" y="78.2" width="1.75" height="1.75"/><rect x="278.7" y="75.6" width="1.75" height="1.75"/><rect x="279.0" y="75.9" width="1.75" height="1.75"/><rect x="279.2" y="74.6" width="1.75" height="1.75"/><rect x="279.4" y="75.1" width="1.75" height="1.75"/><rect x="279.6" y="74.2" width="1.75" height="1.75"/><rect x="279.8" y="75.2" width="1.75" height="1.75"/><rect x="280.1" y="79.4" width="1.75" height="1.75"/><rect x="280.3" y="72.7" width="1.75" height="1.75"/><rect x="280.5" y="70.0" width="1.75" height="1.75"/><rect x="280.7" y="72.3" width="1.75" height="1.75"/><rect x="280.9" y="74.5" width="1.75" height="1.75"/><rect x="281.2" y="71.8" width="1.75" height="1.75"/><rect x="281.4" y="77.1" width="1.75" height="1.75"/><rect x="281.6" y="80.6" width="1.75" height="1.75"/><rect x="281.8" y="72.8" width="1.75" height="1.75"/><rect x="282.0" y="76.5" width="1.75" height="1.75"/><rect x="282.3" y="69.8" width="1.75" height="1.75"/><rect x="282.5" y="76.7" width="1.75" height="1.75"/><rect x="282.7" y="82.5" width="1.75" height="1.75"/><rect x="282.9" y="76.2" width="1.75" height="1.75"/><rect x="283.1" y="65.9" width="1.75" height="1.75"/><rect x="283.3" y="73.3" width="1.75" height="1.75"/><rect x="283.6" y="76.9" width="1.75" height="1.75"/><rect x="283.8" y="74.4" width="1.75" height="1.75"/><rect x="284.0" y="69.3" width="1.75" height="1.75"/><rect x="284.2" y="69.2" width="1.75" height="1.75"/><rect x="284.4" y="70.3" width="1.75" height="1.75"/><rect x="284.7" y="65.1" width="1.75" height="1.75"/><rect x="284.9" y="67.9" width="1.75" height="1.75"/><rect x="285.1" y="70.6" width="1.75" height="1.75"/><rect x="285.3" y="68.0" width="1.75" height="1.75"/><rect x="285.5" y="63.7" width="1.75" height="1.75"/><rect x="285.8" y="66.2" width="1.75" height="1.75"/><rect x="286.0" y="65.9" width="1.75" height="1.75"/><rect x="286.2" y="73.9" width="1.75" height="1.75"/><rect x="286.4" y="70.1" width="1.75" height="1.75"/><rect x="286.6" y="66.5" width="1.75" height="1.75"/><rect x="286.9" y="70.3" width="1.75" height="1.75"/><rect x="287.1" y="64.9" width="1.75" height="1.75"/><rect x="287.3" y="66.6" width="1.75" height="1.75"/><rect x="287.5" y="65.2" width="1.75" height="1.75"/><rect x="287.7" y="69.4" width="1.75" height="1.75"/><rect x="287.9" y="58.6" width="1.75" height="1.75"/><rect x="288.2" y="63.5" width="1.75" height="1.75"/><rect x="288.4" y="68.9" width="1.75" height="1.75"/><rect x="288.6" y="67.6" width="1.75" height="1.75"/><rect x="288.8" y="57.8" width="1.75" height="1.75"/><rect x="289.0" y="69.0" width="1.75" height="1.75"/><rect x="289.3" y="64.1" width="1.75" height="1.75"/><rect x="289.5" y="64.7" width="1.75" height="1.75"/><rect x="289.7" y="68.3" width="1.75" height="1.75"/><rect x="289.9" y="72.7" width="1.75" height="1.75"/><rect x="290.1" y="67.3" width="1.75" height="1.75"/><rect x="290.4" y="66.5" width="1.75" height="1.75"/><rect x="290.6" y="63.4" width="1.75" height="1.75"/><rect x="290.8" y="64.6" width="1.75" height="1.75"/><rect x="291.0" y="67.4" width="1.75" height="1.75"/><rect x="291.2" y="64.0" width="1.75" height="1.75"/><rect x="291.5" y="65.1" width="1.75" height="1.75"/><rect x="291.7" y="66.3" width="1.75" height="1.75"/><rect x="291.9" y="66.7" width="1.75" height="1.75"/><rect x="292.1" y="67.7" width="1.75" height="1.75"/><rect x="292.3" y="64.0" width="1.75" height="1.75"/><rect x="292.5" y="70.6" width="1.75" height="1.75"/><rect x="292.8" y="68.8" width="1.75" height="1.75"/><rect x="293.0" y="66.2" width="1.75" height="1.75"/><rect x="293.2" y="71.8" width="1.75" height="1.75"/><rect x="293.4" y="67.7" width="1.75" height="1.75"/><rect x="293.6" y="73.6" width="1.75" height="1.75"/><rect x="293.9" y="68.4" width="1.75" height="1.75"/><rect x="294.1" y="63.4" width="1.75" height="1.75"/><rect x="294.3" y="63.3" width="1.75" height="1.75"/><rect x="294.5" y="65.5" width="1.75" height="1.75"/><rect x="294.7" y="66.1" width="1.75" height="1.75"/><rect x="295.0" y="70.5" width="1.75" height="1.75"/><rect x="295.2" y="57.8" width="1.75" height="1.75"/><rect x="295.4" y="62.8" width="1.75" height="1.75"/><rect x="295.6" y="60.4" width="1.75" height="1.75"/><rect x="295.8" y="68.0" width="1.75" height="1.75"/><rect x="296.1" y="65.1" width="1.75" height="1.75"/><rect x="296.3" y="71.3" width="1.75" height="1.75"/><rect x="296.5" y="61.1" width="1.75" height="1.75"/><rect x="296.7" y="60.4" width="1.75" height="1.75"/><rect x="296.9" y="71.3" width="1.75" height="1.75"/><rect x="297.1" y="64.0" width="1.75" height="1.75"/><rect x="297.4" y="61.2" width="1.75" height="1.75"/><rect x="297.6" y="70.4" width="1.75" height="1.75"/><rect x="297.8" y="70.5" width="1.75" height="1.75"/><rect x="298.0" y="67.4" width="1.75" height="1.75"/><rect x="298.2" y="65.6" width="1.75" height="1.75"/><rect x="298.5" y="68.5" width="1.75" height="1.75"/><rect x="298.7" y="62.8" width="1.75" height="1.75"/><rect x="298.9" y="61.9" width="1.75" height="1.75"/><rect x="299.1" y="60.3" width="1.75" height="1.75"/><rect x="299.3" y="59.9" width="1.75" height="1.75"/><rect x="299.6" y="56.7" width="1.75" height="1.75"/><rect x="299.8" y="57.9" width="1.75" height="1.75"/><rect x="300.0" y="67.3" width="1.75" height="1.75"/><rect x="300.2" y="64.1" width="1.75" height="1.75"/><rect x="300.4" y="66.1" width="1.75" height="1.75"/><rect x="300.6" y="66.1" width="1.75" height="1.75"/><rect x="300.9" y="62.1" width="1.75" height="1.75"/><rect x="301.1" y="61.7" width="1.75" height="1.75"/><rect x="301.3" y="59.7" width="1.75" height="1.75"/><rect x="301.5" y="67.6" width="1.75" height="1.75"/><rect x="301.7" y="66.2" width="1.75" height="1.75"/><rect x="302.0" y="61.3" width="1.75" height="1.75"/><rect x="302.2" y="61.9" width="1.75" height="1.75"/><rect x="302.4" y="62.2" width="1.75" height="1.75"/><rect x="302.6" y="61.2" width="1.75" height="1.75"/><rect x="302.8" y="63.8" width="1.75" height="1.75"/><rect x="303.1" y="58.0" width="1.75" height="1.75"/><rect x="303.3" y="59.2" width="1.75" height="1.75"/><rect x="303.5" y="60.8" width="1.75" height="1.75"/><rect x="303.7" y="63.0" width="1.75" height="1.75"/><rect x="303.9" y="61.0" width="1.75" height="1.75"/><rect x="304.2" y="70.7" width="1.75" height="1.75"/><rect x="304.4" y="55.1" width="1.75" height="1.75"/><rect x="304.6" y="49.5" width="1.75" height="1.75"/><rect x="304.8" y="57.8" width="1.75" height="1.75"/><rect x="305.0" y="48.4" width="1.75" height="1.75"/><rect x="305.2" y="48.6" width="1.75" height="1.75"/><rect x="305.5" y="56.8" width="1.75" height="1.75"/><rect x="305.7" y="50.5" width="1.75" height="1.75"/><rect x="305.9" y="50.8" width="1.75" height="1.75"/><rect x="306.1" y="46.5" width="1.75" height="1.75"/><rect x="306.3" y="45.5" width="1.75" height="1.75"/><rect x="306.6" y="49.0" width="1.75" height="1.75"/><rect x="306.8" y="53.3" width="1.75" height="1.75"/><rect x="307.0" y="49.4" width="1.75" height="1.75"/><rect x="307.2" y="48.8" width="1.75" height="1.75"/><rect x="307.4" y="44.4" width="1.75" height="1.75"/><rect x="307.7" y="46.7" width="1.75" height="1.75"/><rect x="307.9" y="52.1" width="1.75" height="1.75"/><rect x="308.1" y="55.5" width="1.75" height="1.75"/><rect x="308.3" y="50.0" width="1.75" height="1.75"/><rect x="308.5" y="51.9" width="1.75" height="1.75"/><rect x="308.8" y="53.9" width="1.75" height="1.75"/><rect x="309.0" y="48.4" width="1.75" height="1.75"/><rect x="309.2" y="50.3" width="1.75" height="1.75"/><rect x="309.4" y="47.0" width="1.75" height="1.75"/><rect x="309.6" y="50.0" width="1.75" height="1.75"/><rect x="309.8" y="55.1" width="1.75" height="1.75"/><rect x="310.1" y="40.1" width="1.75" height="1.75"/><rect x="310.3" y="54.4" width="1.75" height="1.75"/><rect x="310.5" y="46.5" width="1.75" height="1.75"/><rect x="310.7" y="51.8" width="1.75" height="1.75"/><rect x="310.9" y="46.3" width="1.75" height="1.75"/><rect x="311.2" y="65.2" width="1.75" height="1.75"/><rect x="311.4" y="56.3" width="1.75" height="1.75"/><rect x="311.6" y="50.8" width="1.75" height="1.75"/><rect x="311.8" y="48.7" width="1.75" height="1.75"/><rect x="312.0" y="39.2" width="1.75" height="1.75"/><rect x="312.3" y="50.1" width="1.75" height="1.75"/><rect x="312.5" y="44.8" width="1.75" height="1.75"/><rect x="312.7" y="47.5" width="1.75" height="1.75"/><rect x="312.9" y="46.4" width="1.75" height="1.75"/><rect x="313.1" y="48.7" width="1.75" height="1.75"/><rect x="313.4" y="52.3" width="1.75" height="1.75"/><rect x="313.6" y="48.6" width="1.75" height="1.75"/><rect x="313.8" y="57.1" width="1.75" height="1.75"/><rect x="314.0" y="44.7" width="1.75" height="1.75"/><rect x="314.2" y="56.6" width="1.75" height="1.75"/><rect x="314.4" y="49.7" width="1.75" height="1.75"/><rect x="314.7" y="39.4" width="1.75" height="1.75"/><rect x="314.9" y="52.1" width="1.75" height="1.75"/><rect x="315.1" y="50.7" width="1.75" height="1.75"/><rect x="315.3" y="44.4" width="1.75" height="1.75"/><rect x="315.5" y="50.5" width="1.75" height="1.75"/><rect x="315.8" y="54.9" width="1.75" height="1.75"/><rect x="316.0" y="49.1" width="1.75" height="1.75"/><rect x="316.2" y="47.2" width="1.75" height="1.75"/><rect x="316.4" y="46.4" width="1.75" height="1.75"/><rect x="316.6" y="54.5" width="1.75" height="1.75"/><rect x="316.9" y="40.6" width="1.75" height="1.75"/><rect x="317.1" y="41.0" width="1.75" height="1.75"/><rect x="317.3" y="49.9" width="1.75" height="1.75"/><rect x="317.5" y="48.5" width="1.75" height="1.75"/><rect x="317.7" y="52.2" width="1.75" height="1.75"/><rect x="318.0" y="46.7" width="1.75" height="1.75"/><rect x="318.2" y="58.1" width="1.75" height="1.75"/><rect x="318.4" y="50.6" width="1.75" height="1.75"/><rect x="318.6" y="56.8" width="1.75" height="1.75"/><rect x="318.8" y="57.9" width="1.75" height="1.75"/><rect x="319.0" y="50.1" width="1.75" height="1.75"/><rect x="319.3" y="46.7" width="1.75" height="1.75"/><rect x="319.5" y="53.9" width="1.75" height="1.75"/><rect x="319.7" y="57.5" width="1.75" height="1.75"/><rect x="319.9" y="49.3" width="1.75" height="1.75"/><rect x="320.1" y="53.9" width="1.75" height="1.75"/><rect x="320.4" y="51.9" width="1.75" height="1.75"/><rect x="320.6" y="45.2" width="1.75" height="1.75"/><rect x="320.8" y="47.3" width="1.75" height="1.75"/><rect x="321.0" y="56.2" width="1.75" height="1.75"/><rect x="321.2" y="40.9" width="1.75" height="1.75"/><rect x="321.5" y="53.2" width="1.75" height="1.75"/><rect x="321.7" y="48.9" width="1.75" height="1.75"/><rect x="321.9" y="56.6" width="1.75" height="1.75"/><rect x="322.1" y="53.3" width="1.75" height="1.75"/><rect x="322.3" y="59.8" width="1.75" height="1.75"/><rect x="322.5" y="46.0" width="1.75" height="1.75"/><rect x="322.8" y="47.6" width="1.75" height="1.75"/><rect x="323.0" y="57.5" width="1.75" height="1.75"/><rect x="323.2" y="58.5" width="1.75" height="1.75"/><rect x="323.4" y="58.9" width="1.75" height="1.75"/><rect x="323.6" y="48.0" width="1.75" height="1.75"/><rect x="323.9" y="54.3" width="1.75" height="1.75"/><rect x="324.1" y="52.7" width="1.75" height="1.75"/><rect x="324.3" y="53.6" width="1.75" height="1.75"/><rect x="324.5" y="51.1" width="1.75" height="1.75"/><rect x="324.7" y="54.8" width="1.75" height="1.75"/><rect x="325.0" y="50.4" width="1.75" height="1.75"/><rect x="325.2" y="56.0" width="1.75" height="1.75"/><rect x="325.4" y="50.6" width="1.75" height="1.75"/><rect x="325.6" y="49.1" width="1.75" height="1.75"/><rect x="325.8" y="48.4" width="1.75" height="1.75"/><rect x="326.1" y="51.1" width="1.75" height="1.75"/><rect x="326.3" y="53.6" width="1.75" height="1.75"/><rect x="326.5" y="49.4" width="1.75" height="1.75"/><rect x="326.7" y="51.9" width="1.75" height="1.75"/><rect x="326.9" y="43.9" width="1.75" height="1.75"/><rect x="327.1" y="46.9" width="1.75" height="1.75"/><rect x="327.4" y="50.3" width="1.75" height="1.75"/><rect x="327.6" y="51.6" width="1.75" height="1.75"/><rect x="327.8" y="52.4" width="1.75" height="1.75"/><rect x="328.0" y="53.3" width="1.75" height="1.75"/><rect x="328.2" y="51.0" width="1.75" height="1.75"/><rect x="328.5" y="48.4" width="1.75" height="1.75"/><rect x="328.7" y="47.5" width="1.75" height="1.75"/><rect x="328.9" y="47.2" width="1.75" height="1.75"/><rect x="329.1" y="41.2" width="1.75" height="1.75"/><rect x="329.3" y="52.0" width="1.75" height="1.75"/><rect x="329.6" y="49.2" width="1.75" height="1.75"/><rect x="329.8" y="38.4" width="1.75" height="1.75"/><rect x="330.0" y="56.4" width="1.75" height="1.75"/><rect x="330.2" y="51.1" width="1.75" height="1.75"/><rect x="330.4" y="48.4" width="1.75" height="1.75"/><rect x="330.7" y="48.4" width="1.75" height="1.75"/><rect x="330.9" y="47.3" width="1.75" height="1.75"/><rect x="331.1" y="49.8" width="1.75" height="1.75"/><rect x="331.3" y="47.4" width="1.75" height="1.75"/><rect x="331.5" y="48.6" width="1.75" height="1.75"/><rect x="331.7" y="45.7" width="1.75" height="1.75"/><rect x="332.0" y="56.0" width="1.75" height="1.75"/><rect x="332.2" y="52.0" width="1.75" height="1.75"/><rect x="332.4" y="48.6" width="1.75" height="1.75"/><rect x="332.6" y="52.5" width="1.75" height="1.75"/><rect x="332.8" y="52.5" width="1.75" height="1.75"/><rect x="333.1" y="46.0" width="1.75" height="1.75"/><rect x="333.3" y="50.9" width="1.75" height="1.75"/><rect x="333.5" y="45.8" width="1.75" height="1.75"/><rect x="333.7" y="45.4" width="1.75" height="1.75"/><rect x="333.9" y="47.0" width="1.75" height="1.75"/><rect x="334.2" y="46.2" width="1.75" height="1.75"/><rect x="334.4" y="48.5" width="1.75" height="1.75"/><rect x="334.6" y="53.5" width="1.75" height="1.75"/><rect x="334.8" y="48.1" width="1.75" height="1.75"/><rect x="335.0" y="46.2" width="1.75" height="1.75"/><rect x="335.3" y="49.9" width="1.75" height="1.75"/><rect x="335.5" y="48.2" width="1.75" height="1.75"/><rect x="335.7" y="44.9" width="1.75" height="1.75"/><rect x="335.9" y="51.2" width="1.75" height="1.75"/><rect x="336.1" y="45.2" width="1.75" height="1.75"/><rect x="336.3" y="40.4" width="1.75" height="1.75"/><rect x="336.6" y="49.8" width="1.75" height="1.75"/><rect x="336.8" y="47.0" width="1.75" height="1.75"/><rect x="337.0" y="48.1" width="1.75" height="1.75"/><rect x="337.2" y="41.5" width="1.75" height="1.75"/><rect x="337.4" y="46.2" width="1.75" height="1.75"/><rect x="337.7" y="43.9" width="1.75" height="1.75"/><rect x="337.9" y="50.0" width="1.75" height="1.75"/><rect x="338.1" y="47.4" width="1.75" height="1.75"/><rect x="338.3" y="47.3" width="1.75" height="1.75"/><rect x="338.5" y="54.1" width="1.75" height="1.75"/><rect x="338.8" y="41.6" width="1.75" height="1.75"/><rect x="339.0" y="43.6" width="1.75" height="1.75"/><rect x="339.2" y="53.8" width="1.75" height="1.75"/><rect x="339.4" y="44.1" width="1.75" height="1.75"/><rect x="339.6" y="47.5" width="1.75" height="1.75"/><rect x="339.9" y="45.2" width="1.75" height="1.75"/><rect x="340.1" y="45.5" width="1.75" height="1.75"/><rect x="340.3" y="52.7" width="1.75" height="1.75"/><rect x="340.5" y="47.6" width="1.75" height="1.75"/><rect x="340.7" y="41.0" width="1.75" height="1.75"/><rect x="340.9" y="48.9" width="1.75" height="1.75"/><rect x="341.2" y="50.6" width="1.75" height="1.75"/><rect x="341.4" y="51.9" width="1.75" height="1.75"/><rect x="341.6" y="51.3" width="1.75" height="1.75"/><rect x="341.8" y="45.3" width="1.75" height="1.75"/><rect x="342.0" y="40.0" width="1.75" height="1.75"/><rect x="342.3" y="44.8" width="1.75" height="1.75"/><rect x="342.5" y="45.5" width="1.75" height="1.75"/><rect x="342.7" y="37.7" width="1.75" height="1.75"/><rect x="342.9" y="48.4" width="1.75" height="1.75"/><rect x="343.1" y="48.9" width="1.75" height="1.75"/><rect x="343.4" y="44.2" width="1.75" height="1.75"/><rect x="343.6" y="44.1" width="1.75" height="1.75"/><rect x="343.8" y="50.1" width="1.75" height="1.75"/><rect x="344.0" y="50.7" width="1.75" height="1.75"/><rect x="344.2" y="45.0" width="1.75" height="1.75"/><rect x="344.4" y="45.1" width="1.75" height="1.75"/><rect x="344.7" y="51.1" width="1.75" height="1.75"/><rect x="344.9" y="46.8" width="1.75" height="1.75"/><rect x="345.1" y="48.1" width="1.75" height="1.75"/><rect x="345.3" y="44.1" width="1.75" height="1.75"/><rect x="345.5" y="46.3" width="1.75" height="1.75"/><rect x="345.8" y="46.2" width="1.75" height="1.75"/><rect x="346.0" y="47.2" width="1.75" height="1.75"/><rect x="346.2" y="41.7" width="1.75" height="1.75"/><rect x="346.4" y="40.3" width="1.75" height="1.75"/><rect x="346.6" y="47.1" width="1.75" height="1.75"/><rect x="346.9" y="42.4" width="1.75" height="1.75"/><rect x="347.1" y="48.6" width="1.75" height="1.75"/><rect x="347.3" y="45.3" width="1.75" height="1.75"/><rect x="347.5" y="42.6" width="1.75" height="1.75"/><rect x="347.7" y="39.7" width="1.75" height="1.75"/><rect x="348.0" y="47.0" width="1.75" height="1.75"/><rect x="348.2" y="45.7" width="1.75" height="1.75"/><rect x="348.4" y="44.6" width="1.75" height="1.75"/><rect x="348.6" y="51.2" width="1.75" height="1.75"/><rect x="348.8" y="45.3" width="1.75" height="1.75"/><rect x="349.0" y="47.9" width="1.75" height="1.75"/><rect x="349.3" y="43.8" width="1.75" height="1.75"/><rect x="349.5" y="49.6" width="1.75" height="1.75"/><rect x="349.7" y="52.9" width="1.75" height="1.75"/><rect x="349.9" y="45.0" width="1.75" height="1.75"/><rect x="350.1" y="44.1" width="1.75" height="1.75"/><rect x="350.4" y="47.2" width="1.75" height="1.75"/><rect x="350.6" y="41.6" width="1.75" height="1.75"/><rect x="350.8" y="46.1" width="1.75" height="1.75"/><rect x="351.0" y="47.3" width="1.75" height="1.75"/><rect x="351.2" y="43.1" width="1.75" height="1.75"/><rect x="351.5" y="51.0" width="1.75" height="1.75"/><rect x="351.7" y="47.5" width="1.75" height="1.75"/><rect x="351.9" y="45.0" width="1.75" height="1.75"/><rect x="352.1" y="41.6" width="1.75" height="1.75"/><rect x="352.3" y="45.4" width="1.75" height="1.75"/><rect x="352.6" y="43.6" width="1.75" height="1.75"/><rect x="352.8" y="47.3" width="1.75" height="1.75"/><rect x="353.0" y="43.5" width="1.75" height="1.75"/><rect x="353.2" y="38.2" width="1.75" height="1.75"/><rect x="353.4" y="47.3" width="1.75" height="1.75"/><rect x="353.6" y="35.5" width="1.75" height="1.75"/><rect x="353.9" y="47.1" width="1.75" height="1.75"/><rect x="354.1" y="44.5" width="1.75" height="1.75"/><rect x="354.3" y="43.9" width="1.75" height="1.75"/><rect x="354.5" y="40.5" width="1.75" height="1.75"/><rect x="354.7" y="49.3" width="1.75" height="1.75"/><rect x="355.0" y="52.6" width="1.75" height="1.75"/><rect x="355.2" y="42.1" width="1.75" height="1.75"/><rect x="355.4" y="41.3" width="1.75" height="1.75"/><rect x="355.6" y="41.9" width="1.75" height="1.75"/><rect x="355.8" y="34.1" width="1.75" height="1.75"/><rect x="356.1" y="43.5" width="1.75" height="1.75"/><rect x="356.3" y="43.3" width="1.75" height="1.75"/><rect x="356.5" y="40.6" width="1.75" height="1.75"/><rect x="356.7" y="42.8" width="1.75" height="1.75"/><rect x="356.9" y="37.7" width="1.75" height="1.75"/><rect x="357.2" y="48.9" width="1.75" height="1.75"/><rect x="357.4" y="45.6" width="1.75" height="1.75"/><rect x="357.6" y="57.4" width="1.75" height="1.75"/><rect x="357.8" y="40.9" width="1.75" height="1.75"/><rect x="358.0" y="45.5" width="1.75" height="1.75"/><rect x="358.2" y="40.4" width="1.75" height="1.75"/><rect x="358.5" y="35.6" width="1.75" height="1.75"/><rect x="358.7" y="44.0" width="1.75" height="1.75"/><rect x="358.9" y="44.9" width="1.75" height="1.75"/><rect x="359.1" y="45.8" width="1.75" height="1.75"/><rect x="359.3" y="47.1" width="1.75" height="1.75"/><rect x="359.6" y="46.3" width="1.75" height="1.75"/><rect x="359.8" y="41.3" width="1.75" height="1.75"/><rect x="360.0" y="43.6" width="1.75" height="1.75"/><rect x="360.2" y="43.5" width="1.75" height="1.75"/><rect x="360.4" y="44.4" width="1.75" height="1.75"/><rect x="360.7" y="40.2" width="1.75" height="1.75"/><rect x="360.9" y="41.8" width="1.75" height="1.75"/><rect x="361.1" y="44.2" width="1.75" height="1.75"/><rect x="361.3" y="41.1" width="1.75" height="1.75"/><rect x="361.5" y="44.2" width="1.75" height="1.75"/><rect x="361.7" y="48.0" width="1.75" height="1.75"/><rect x="362.0" y="37.9" width="1.75" height="1.75"/><rect x="362.2" y="41.7" width="1.75" height="1.75"/><rect x="292.3" y="18.0" width="1.75" height="1.75"/></g>
<polyline points="230.11,160.39 231.20,157.24 232.30,154.17 233.39,151.18 234.49,148.27 235.58,145.44 236.68,142.68 237.77,140.00 238.87,137.38 239.96,134.84 241.06,132.36 242.15,129.94 243.25,127.59 244.34,125.30 245.44,123.07 246.53,120.90 247.62,118.79 248.72,116.73 249.81,114.73 250.91,112.78 252.00,110.88 253.10,109.03 254.19,107.23 255.29,105.47 256.38,103.77 257.48,102.10 258.57,100.48 259.67,98.91 260.76,97.37 261.86,95.88 262.95,94.42 264.05,93.01 265.14,91.63 266.24,90.28 267.34,88.97 268.43,87.70 269.52,86.46 270.62,85.25 271.72,84.08 272.81,82.93 273.90,81.82 275.00,80.73 276.10,79.67 277.19,78.64 278.28,77.64 279.38,76.67 280.48,75.71 281.57,74.79 282.67,73.89 283.76,73.01 284.86,72.16 285.95,71.33 287.05,70.52 288.14,69.73 289.24,68.96 290.33,68.21 291.43,67.48 292.52,66.77 293.62,66.08 294.71,65.41 295.81,64.76 296.90,64.12 298.00,63.50 299.09,62.89 300.19,62.31 301.28,61.73 302.38,61.18 303.47,60.63 304.56,60.10 305.66,59.59 306.75,59.09 307.85,58.60 308.94,58.12 310.04,57.66 311.13,57.21 312.23,56.77 313.32,56.34 314.42,55.93 315.51,55.52 316.61,55.13 317.71,54.74 318.80,54.37 319.89,54.00 320.99,53.65 322.09,53.30 323.18,52.97 324.27,52.64 325.37,52.32 326.47,52.01 327.56,51.71 328.65,51.42 329.75,51.13 330.85,50.85 331.94,50.58 333.03,50.31 334.13,50.06 335.23,49.80 336.32,49.56 337.41,49.32 338.51,49.09 339.61,48.87 340.70,48.65 341.80,48.43 342.89,48.22 343.99,48.02 345.08,47.82 346.18,47.63 347.27,47.44 348.37,47.26 349.46,47.08 350.56,46.91 351.65,46.74 352.75,46.58 353.84,46.42 354.94,46.27 356.03,46.11 357.12,45.97 358.22,45.82 359.31,45.68 360.41,45.55 361.50,45.42 362.60,45.29" fill="none" stroke="#ee1028" stroke-width="1.8"/>
<line x1="187.40" y1="7.10" x2="187.40" y2="179.20" stroke="#3a3a3a" stroke-width="0.9" />
<line x1="187.40" y1="179.20" x2="406.40" y2="179.20" stroke="#3a3a3a" stroke-width="0.9" />
<line x1="187.40" y1="179.18" x2="189.90" y2="179.18" stroke="#3a3a3a" stroke-width="0.9" />
<text x="184.10" y="183.38" font-size="10.7" text-anchor="end" font-weight="normal" fill="#262626" stroke="#262626" stroke-width="0.22" >−10</text>
<line x1="187.40" y1="150.50" x2="189.90" y2="150.50" stroke="#3a3a3a" stroke-width="0.9" />
<text x="184.10" y="154.70" font-size="10.7" text-anchor="end" font-weight="normal" fill="#262626" stroke="#262626" stroke-width="0.22" >0</text>
<line x1="187.40" y1="121.82" x2="189.90" y2="121.82" stroke="#3a3a3a" stroke-width="0.9" />
<text x="184.10" y="126.02" font-size="10.7" text-anchor="end" font-weight="normal" fill="#262626" stroke="#262626" stroke-width="0.22" >10</text>
<line x1="187.40" y1="93.14" x2="189.90" y2="93.14" stroke="#3a3a3a" stroke-width="0.9" />
<text x="184.10" y="97.34" font-size="10.7" text-anchor="end" font-weight="normal" fill="#262626" stroke="#262626" stroke-width="0.22" >20</text>
<line x1="187.40" y1="64.46" x2="189.90" y2="64.46" stroke="#3a3a3a" stroke-width="0.9" />
<text x="184.10" y="68.66" font-size="10.7" text-anchor="end" font-weight="normal" fill="#262626" stroke="#262626" stroke-width="0.22" >30</text>
<line x1="187.40" y1="35.78" x2="189.90" y2="35.78" stroke="#3a3a3a" stroke-width="0.9" />
<text x="184.10" y="39.98" font-size="10.7" text-anchor="end" font-weight="normal" fill="#262626" stroke="#262626" stroke-width="0.22" >40</text>
<line x1="187.40" y1="7.10" x2="189.90" y2="7.10" stroke="#3a3a3a" stroke-width="0.9" />
<text x="184.10" y="11.30" font-size="10.7" text-anchor="end" font-weight="normal" fill="#262626" stroke="#262626" stroke-width="0.22" >50</text>
<line x1="187.40" y1="179.20" x2="187.40" y2="176.70" stroke="#3a3a3a" stroke-width="0.9" />
<text x="187.40" y="192.90" font-size="10.7" text-anchor="middle" font-weight="normal" fill="#262626" stroke="#262626" stroke-width="0.22" >0</text>
<line x1="231.20" y1="179.20" x2="231.20" y2="176.70" stroke="#3a3a3a" stroke-width="0.9" />
<text x="231.20" y="192.90" font-size="10.7" text-anchor="middle" font-weight="normal" fill="#262626" stroke="#262626" stroke-width="0.22" >20</text>
<line x1="275.00" y1="179.20" x2="275.00" y2="176.70" stroke="#3a3a3a" stroke-width="0.9" />
<text x="275.00" y="192.90" font-size="10.7" text-anchor="middle" font-weight="normal" fill="#262626" stroke="#262626" stroke-width="0.22" >40</text>
<line x1="318.80" y1="179.20" x2="318.80" y2="176.70" stroke="#3a3a3a" stroke-width="0.9" />
<text x="318.80" y="192.90" font-size="10.7" text-anchor="middle" font-weight="normal" fill="#262626" stroke="#262626" stroke-width="0.22" >60</text>
<line x1="362.60" y1="179.20" x2="362.60" y2="176.70" stroke="#3a3a3a" stroke-width="0.9" />
<text x="362.60" y="192.90" font-size="10.7" text-anchor="middle" font-weight="normal" fill="#262626" stroke="#262626" stroke-width="0.22" >80</text>
<line x1="406.40" y1="179.20" x2="406.40" y2="176.70" stroke="#3a3a3a" stroke-width="0.9" />
<text x="406.40" y="192.90" font-size="10.7" text-anchor="middle" font-weight="normal" fill="#262626" stroke="#262626" stroke-width="0.22" >100</text>
<text x="297.00" y="210.00" font-size="12" text-anchor="middle" font-weight="normal" fill="#262626" stroke="#262626" stroke-width="0.22" >Time, s</text>
<text x="0.00" y="0.00" font-size="12" text-anchor="middle" font-weight="normal" fill="#262626" stroke="#262626" stroke-width="0.22" transform="translate(164.2,92.4) rotate(-90)">Intensity, a.u.</text>
<line x1="197.50" y1="123.50" x2="233.50" y2="123.50" stroke="#333" stroke-width="1" />
<line x1="197.50" y1="120.50" x2="197.50" y2="126.50" stroke="#333" stroke-width="1" />
<line x1="233.50" y1="120.50" x2="233.50" y2="126.50" stroke="#333" stroke-width="1" />
<text x="216.90" y="112.60" font-size="10" text-anchor="middle" font-weight="normal" fill="#222" stroke="#222" stroke-width="0.22" textLength="34.6" lengthAdjust="spacingAndGlyphs">lag-time</text>
</g>
<g id="pc">
<text x="438.60" y="9.60" font-size="17" text-anchor="start" font-weight="bold" fill="#111" >c</text>
<line x1="483.50" y1="146.20" x2="680.40" y2="30.20" stroke="#1a1a1a" stroke-width="1.1" />
<line x1="527.30" y1="118.50" x2="527.30" y2="130.30" stroke="#cddcb8" stroke-width="0.8" />
<line x1="526.10" y1="118.50" x2="528.50" y2="118.50" stroke="#cddcb8" stroke-width="0.8" />
<line x1="526.10" y1="130.30" x2="528.50" y2="130.30" stroke="#cddcb8" stroke-width="0.8" />
<rect x="525.20" y="123.00" width="4.2" height="4.2" fill="#6f9d4f"/>
<line x1="571.10" y1="79.00" x2="571.10" y2="97.80" stroke="#cddcb8" stroke-width="0.8" />
<line x1="569.90" y1="79.00" x2="572.30" y2="79.00" stroke="#cddcb8" stroke-width="0.8" />
<line x1="569.90" y1="97.80" x2="572.30" y2="97.80" stroke="#cddcb8" stroke-width="0.8" />
<rect x="569.00" y="86.30" width="4.2" height="4.2" fill="#6f9d4f"/>
<line x1="614.90" y1="55.90" x2="614.90" y2="78.50" stroke="#cddcb8" stroke-width="0.8" />
<line x1="613.70" y1="55.90" x2="616.10" y2="55.90" stroke="#cddcb8" stroke-width="0.8" />
<line x1="613.70" y1="78.50" x2="616.10" y2="78.50" stroke="#cddcb8" stroke-width="0.8" />
<rect x="612.80" y="64.80" width="4.2" height="4.2" fill="#6f9d4f"/>
<line x1="658.70" y1="32.40" x2="658.70" y2="59.20" stroke="#cddcb8" stroke-width="0.8" />
<line x1="657.50" y1="32.40" x2="659.90" y2="32.40" stroke="#cddcb8" stroke-width="0.8" />
<line x1="657.50" y1="59.20" x2="659.90" y2="59.20" stroke="#cddcb8" stroke-width="0.8" />
<rect x="656.60" y="43.50" width="4.2" height="4.2" fill="#6f9d4f"/>
<line x1="483.50" y1="8.30" x2="483.50" y2="180.00" stroke="#3a3a3a" stroke-width="0.9" />
<line x1="483.50" y1="180.00" x2="702.50" y2="180.00" stroke="#3a3a3a" stroke-width="0.9" />
<line x1="483.50" y1="180.00" x2="486.00" y2="180.00" stroke="#3a3a3a" stroke-width="0.9" />
<text x="479.80" y="184.00" font-size="10.7" text-anchor="end" font-weight="normal" fill="#262626" stroke="#262626" stroke-width="0.22" >0</text>
<line x1="483.50" y1="145.64" x2="486.00" y2="145.64" stroke="#3a3a3a" stroke-width="0.9" />
<text x="479.80" y="149.64" font-size="10.7" text-anchor="end" font-weight="normal" fill="#262626" stroke="#262626" stroke-width="0.22" >0.02</text>
<line x1="483.50" y1="111.28" x2="486.00" y2="111.28" stroke="#3a3a3a" stroke-width="0.9" />
<text x="479.80" y="115.28" font-size="10.7" text-anchor="end" font-weight="normal" fill="#262626" stroke="#262626" stroke-width="0.22" >0.04</text>
<line x1="483.50" y1="76.92" x2="486.00" y2="76.92" stroke="#3a3a3a" stroke-width="0.9" />
<text x="479.80" y="80.92" font-size="10.7" text-anchor="end" font-weight="normal" fill="#262626" stroke="#262626" stroke-width="0.22" >0.06</text>
<line x1="483.50" y1="42.56" x2="486.00" y2="42.56" stroke="#3a3a3a" stroke-width="0.9" />
<text x="479.80" y="46.56" font-size="10.7" text-anchor="end" font-weight="normal" fill="#262626" stroke="#262626" stroke-width="0.22" >0.08</text>
<line x1="483.50" y1="8.20" x2="486.00" y2="8.20" stroke="#3a3a3a" stroke-width="0.9" />
<text x="479.80" y="12.20" font-size="10.7" text-anchor="end" font-weight="normal" fill="#262626" stroke="#262626" stroke-width="0.22" >0.1</text>
<line x1="483.50" y1="180.00" x2="483.50" y2="177.50" stroke="#3a3a3a" stroke-width="0.9" />
<text x="483.50" y="192.40" font-size="10.7" text-anchor="middle" font-weight="normal" fill="#262626" stroke="#262626" stroke-width="0.22" >0</text>
<line x1="527.30" y1="180.00" x2="527.30" y2="177.50" stroke="#3a3a3a" stroke-width="0.9" />
<text x="527.30" y="192.40" font-size="10.7" text-anchor="middle" font-weight="normal" fill="#262626" stroke="#262626" stroke-width="0.22" >10</text>
<line x1="571.10" y1="180.00" x2="571.10" y2="177.50" stroke="#3a3a3a" stroke-width="0.9" />
<text x="571.10" y="192.40" font-size="10.7" text-anchor="middle" font-weight="normal" fill="#262626" stroke="#262626" stroke-width="0.22" >20</text>
<line x1="614.90" y1="180.00" x2="614.90" y2="177.50" stroke="#3a3a3a" stroke-width="0.9" />
<text x="614.90" y="192.40" font-size="10.7" text-anchor="middle" font-weight="normal" fill="#262626" stroke="#262626" stroke-width="0.22" >30</text>
<line x1="658.70" y1="180.00" x2="658.70" y2="177.50" stroke="#3a3a3a" stroke-width="0.9" />
<text x="658.70" y="192.40" font-size="10.7" text-anchor="middle" font-weight="normal" fill="#262626" stroke="#262626" stroke-width="0.22" >40</text>
<line x1="702.50" y1="180.00" x2="702.50" y2="177.50" stroke="#3a3a3a" stroke-width="0.9" />
<text x="702.50" y="192.40" font-size="10.7" text-anchor="middle" font-weight="normal" fill="#262626" stroke="#262626" stroke-width="0.22" >50</text>
<text x="593.00" y="210.10" font-size="12" text-anchor="middle" font-weight="normal" fill="#262626" stroke="#262626" stroke-width="0.22" >SYTOX concentration, nM</text>
<text x="0.00" y="0.00" font-size="11.5" text-anchor="middle" font-weight="normal" fill="#262626" stroke="#262626" stroke-width="0.22" transform="translate(447.8,93.0) rotate(-90)">Apparent rate, 1/s</text>
</g>
<g id="pd">
<text x="81.60" y="243.40" font-size="17" text-anchor="start" font-weight="bold" fill="#111" >d</text>
<text x="176.70" y="251.20" font-size="10.7" text-anchor="middle" font-weight="normal" fill="#111" stroke="#111" stroke-width="0.22" >Time (s)</text>
<line x1="151.20" y1="258.10" x2="203.50" y2="258.10" stroke="#111" stroke-width="1.4" />
<path d="M208.7,258.1 L200.6,254.2 L202.8,258.1 L200.6,262.0 Z" fill="#111"/>
<text x="105.00" y="270.80" font-size="7.5" text-anchor="middle" font-weight="normal" fill="#222" stroke="#222" stroke-width="0.22" >0</text>
<text x="234.70" y="270.90" font-size="7.5" text-anchor="middle" font-weight="normal" fill="#222" stroke="#222" stroke-width="0.22" >20</text>
<text x="371.20" y="270.90" font-size="7.5" text-anchor="middle" font-weight="normal" fill="#222" stroke="#222" stroke-width="0.22" >40</text>
<g filter="url(#nzK)">
<rect x="103.4" y="276.0" width="267.7" height="67.7" fill="#7a7a7a"/>
<rect x="103.4" y="281" width="267.7" height="20" fill="url(#gUp)"/>
<rect x="257.6" y="297.6" width="0.7" height="37.9" fill="#000" fill-opacity="0.16"/><rect x="165.1" y="285.9" width="1.0" height="35.6" fill="#000" fill-opacity="0.08"/><rect x="238.0" y="294.8" width="0.9" height="23.5" fill="#000" fill-opacity="0.07"/><rect x="318.2" y="291.6" width="0.7" height="43.1" fill="#fff" fill-opacity="0.07"/><rect x="134.8" y="285.0" width="0.9" height="52.1" fill="#000" fill-opacity="0.19"/><rect x="144.5" y="287.8" width="0.9" height="37.1" fill="#000" fill-opacity="0.15"/><rect x="154.1" y="301.0" width="1.3" height="32.2" fill="#000" fill-opacity="0.10"/><rect x="144.5" y="287.5" width="1.0" height="32.0" fill="#000" fill-opacity="0.13"/><rect x="251.0" y="297.0" width="1.0" height="22.4" fill="#000" fill-opacity="0.12"/><rect x="181.6" y="293.2" width="0.7" height="40.3" fill="#000" fill-opacity="0.19"/><rect x="338.4" y="291.1" width="1.3" height="35.8" fill="#000" fill-opacity="0.13"/><rect x="105.6" y="285.8" width="0.9" height="36.2" fill="#fff" fill-opacity="0.04"/><rect x="306.3" y="292.9" width="1.0" height="36.4" fill="#000" fill-opacity="0.06"/><rect x="288.7" y="298.6" width="0.7" height="38.4" fill="#000" fill-opacity="0.20"/><rect x="155.0" y="293.7" width="0.9" height="32.3" fill="#000" fill-opacity="0.19"/><rect x="238.4" y="290.3" width="0.9" height="34.7" fill="#000" fill-opacity="0.14"/><rect x="282.0" y="290.3" width="0.7" height="38.4" fill="#fff" fill-opacity="0.07"/><rect x="332.1" y="285.5" width="1.0" height="48.8" fill="#000" fill-opacity="0.11"/><rect x="207.8" y="285.9" width="0.7" height="52.2" fill="#000" fill-opacity="0.09"/><rect x="154.7" y="301.7" width="0.9" height="28.7" fill="#000" fill-opacity="0.17"/><rect x="129.8" y="292.4" width="1.3" height="28.9" fill="#000" fill-opacity="0.11"/><rect x="350.8" y="299.5" width="1.3" height="40.0" fill="#000" fill-opacity="0.15"/><rect x="182.1" y="289.7" width="0.9" height="38.7" fill="#fff" fill-opacity="0.09"/><rect x="235.1" y="288.0" width="1.0" height="50.6" fill="#fff" fill-opacity="0.06"/><rect x="231.0" y="294.3" width="0.7" height="34.7" fill="#000" fill-opacity="0.16"/><rect x="275.4" y="296.3" width="1.0" height="38.4" fill="#000" fill-opacity="0.15"/><rect x="310.2" y="289.5" width="1.0" height="50.1" fill="#000" fill-opacity="0.09"/><rect x="147.6" y="299.5" width="1.0" height="29.0" fill="#000" fill-opacity="0.08"/><rect x="174.9" y="293.5" width="1.0" height="39.3" fill="#000" fill-opacity="0.14"/><rect x="286.1" y="299.1" width="0.9" height="26.6" fill="#000" fill-opacity="0.15"/><rect x="345.1" y="301.3" width="0.9" height="28.1" fill="#fff" fill-opacity="0.05"/><rect x="314.8" y="289.8" width="1.3" height="29.9" fill="#fff" fill-opacity="0.08"/><rect x="247.2" y="296.3" width="1.0" height="30.9" fill="#000" fill-opacity="0.04"/><rect x="143.0" y="292.5" width="0.9" height="39.8" fill="#000" fill-opacity="0.07"/><rect x="281.3" y="301.8" width="0.9" height="37.8" fill="#fff" fill-opacity="0.03"/><rect x="182.0" y="288.1" width="0.7" height="34.2" fill="#000" fill-opacity="0.10"/><rect x="267.4" y="286.2" width="1.0" height="36.3" fill="#fff" fill-opacity="0.05"/><rect x="172.4" y="292.0" width="1.0" height="28.6" fill="#000" fill-opacity="0.13"/><rect x="178.0" y="290.0" width="1.0" height="39.3" fill="#000" fill-opacity="0.17"/><rect x="207.2" y="298.8" width="1.0" height="33.3" fill="#000" fill-opacity="0.07"/><rect x="198.2" y="293.1" width="0.9" height="29.3" fill="#000" fill-opacity="0.10"/><rect x="324.6" y="285.0" width="0.9" height="35.4" fill="#000" fill-opacity="0.18"/><rect x="243.1" y="292.3" width="1.3" height="47.2" fill="#000" fill-opacity="0.20"/><rect x="197.4" y="301.3" width="1.0" height="36.8" fill="#000" fill-opacity="0.09"/><rect x="165.6" y="285.3" width="1.0" height="53.5" fill="#000" fill-opacity="0.09"/><rect x="221.5" y="287.1" width="1.3" height="44.6" fill="#fff" fill-opacity="0.02"/><rect x="137.2" y="291.7" width="1.0" height="36.9" fill="#fff" fill-opacity="0.06"/><rect x="112.5" y="293.3" width="1.0" height="43.2" fill="#000" fill-opacity="0.14"/><rect x="220.9" y="296.0" width="0.7" height="35.3" fill="#fff" fill-opacity="0.03"/><rect x="173.3" y="297.0" width="0.7" height="34.5" fill="#000" fill-opacity="0.10"/><rect x="287.9" y="295.0" width="1.0" height="23.8" fill="#000" fill-opacity="0.15"/><rect x="130.0" y="296.7" width="1.3" height="25.5" fill="#000" fill-opacity="0.11"/><rect x="245.9" y="297.0" width="1.3" height="34.9" fill="#000" fill-opacity="0.17"/><rect x="221.2" y="296.6" width="1.0" height="37.2" fill="#000" fill-opacity="0.16"/><rect x="178.6" y="285.1" width="1.0" height="50.1" fill="#000" fill-opacity="0.12"/><rect x="180.4" y="287.8" width="1.3" height="45.5" fill="#000" fill-opacity="0.13"/><rect x="208.8" y="294.2" width="0.9" height="24.9" fill="#000" fill-opacity="0.05"/><rect x="119.0" y="301.0" width="1.3" height="24.3" fill="#000" fill-opacity="0.20"/><rect x="277.0" y="285.8" width="0.9" height="50.7" fill="#000" fill-opacity="0.17"/><rect x="130.9" y="300.2" width="1.3" height="39.7" fill="#fff" fill-opacity="0.07"/><rect x="205.9" y="287.7" width="0.7" height="44.0" fill="#000" fill-opacity="0.15"/><rect x="288.0" y="289.8" width="0.7" height="40.8" fill="#000" fill-opacity="0.18"/><rect x="136.7" y="292.3" width="1.3" height="32.6" fill="#000" fill-opacity="0.19"/><rect x="196.1" y="285.9" width="0.9" height="47.4" fill="#000" fill-opacity="0.15"/><rect x="175.3" y="301.0" width="0.9" height="29.1" fill="#000" fill-opacity="0.13"/><rect x="166.3" y="297.8" width="0.9" height="31.6" fill="#000" fill-opacity="0.18"/><rect x="215.6" y="291.6" width="0.7" height="29.3" fill="#000" fill-opacity="0.05"/><rect x="268.8" y="286.6" width="1.3" height="34.2" fill="#fff" fill-opacity="0.09"/><rect x="222.4" y="290.5" width="0.7" height="45.0" fill="#000" fill-opacity="0.10"/><rect x="313.4" y="301.1" width="0.9" height="26.4" fill="#000" fill-opacity="0.05"/><rect x="329.1" y="293.4" width="1.3" height="29.3" fill="#000" fill-opacity="0.08"/><rect x="185.9" y="295.4" width="1.3" height="30.2" fill="#000" fill-opacity="0.16"/><rect x="192.1" y="290.0" width="1.0" height="41.9" fill="#000" fill-opacity="0.13"/><rect x="245.3" y="297.6" width="0.7" height="29.1" fill="#fff" fill-opacity="0.03"/><rect x="151.8" y="293.3" width="1.0" height="45.3" fill="#fff" fill-opacity="0.06"/><rect x="323.7" y="295.5" width="1.3" height="31.9" fill="#000" fill-opacity="0.07"/><rect x="265.2" y="286.2" width="1.3" height="50.9" fill="#fff" fill-opacity="0.04"/><rect x="172.1" y="287.7" width="0.9" height="36.6" fill="#fff" fill-opacity="0.09"/><rect x="188.6" y="297.8" width="0.7" height="27.2" fill="#000" fill-opacity="0.15"/><rect x="220.2" y="301.1" width="1.0" height="19.5" fill="#000" fill-opacity="0.15"/><rect x="284.0" y="287.8" width="0.7" height="34.6" fill="#000" fill-opacity="0.15"/><rect x="256.3" y="300.5" width="1.0" height="33.0" fill="#fff" fill-opacity="0.05"/><rect x="120.0" y="301.9" width="0.9" height="26.4" fill="#fff" fill-opacity="0.04"/><rect x="114.3" y="295.3" width="1.0" height="38.6" fill="#fff" fill-opacity="0.02"/><rect x="296.3" y="292.0" width="1.0" height="27.0" fill="#000" fill-opacity="0.15"/><rect x="162.1" y="298.7" width="1.3" height="21.4" fill="#fff" fill-opacity="0.04"/><rect x="115.9" y="291.8" width="1.0" height="27.6" fill="#000" fill-opacity="0.11"/><rect x="262.0" y="299.9" width="0.9" height="39.0" fill="#fff" fill-opacity="0.06"/><rect x="203.0" y="294.0" width="1.0" height="25.8" fill="#000" fill-opacity="0.05"/><rect x="347.3" y="287.8" width="0.9" height="31.9" fill="#000" fill-opacity="0.11"/><rect x="191.9" y="292.2" width="0.9" height="42.7" fill="#000" fill-opacity="0.19"/><rect x="179.6" y="292.6" width="0.9" height="43.5" fill="#000" fill-opacity="0.06"/><rect x="223.0" y="298.3" width="1.3" height="25.5" fill="#000" fill-opacity="0.06"/><rect x="123.7" y="289.2" width="1.3" height="30.7" fill="#000" fill-opacity="0.15"/><rect x="171.7" y="293.4" width="0.9" height="30.1" fill="#000" fill-opacity="0.18"/><rect x="322.7" y="286.2" width="1.3" height="48.7" fill="#000" fill-opacity="0.13"/><rect x="325.3" y="296.1" width="0.7" height="38.6" fill="#000" fill-opacity="0.17"/><rect x="265.7" y="301.2" width="1.3" height="32.8" fill="#000" fill-opacity="0.17"/><rect x="198.1" y="287.2" width="0.9" height="32.2" fill="#fff" fill-opacity="0.06"/><rect x="183.4" y="285.6" width="0.7" height="44.4" fill="#fff" fill-opacity="0.02"/><rect x="135.6" y="291.1" width="0.7" height="45.8" fill="#fff" fill-opacity="0.05"/><rect x="193.1" y="290.6" width="0.9" height="27.7" fill="#000" fill-opacity="0.06"/><rect x="234.7" y="287.9" width="1.3" height="45.7" fill="#000" fill-opacity="0.11"/><rect x="209.7" y="290.7" width="0.9" height="37.1" fill="#000" fill-opacity="0.11"/><rect x="212.7" y="298.0" width="1.3" height="40.6" fill="#000" fill-opacity="0.14"/><rect x="129.0" y="298.8" width="0.7" height="28.4" fill="#fff" fill-opacity="0.02"/><rect x="328.5" y="289.0" width="1.0" height="44.5" fill="#000" fill-opacity="0.07"/><rect x="172.0" y="288.4" width="1.0" height="42.0" fill="#000" fill-opacity="0.17"/><rect x="194.2" y="298.8" width="0.7" height="37.2" fill="#000" fill-opacity="0.10"/><rect x="138.8" y="299.1" width="0.7" height="29.6" fill="#fff" fill-opacity="0.05"/><rect x="290.0" y="289.8" width="1.0" height="48.5" fill="#000" fill-opacity="0.12"/><rect x="235.6" y="286.5" width="0.7" height="35.8" fill="#fff" fill-opacity="0.07"/><rect x="257.1" y="298.8" width="0.7" height="19.7" fill="#000" fill-opacity="0.12"/><rect x="227.5" y="294.3" width="1.3" height="38.9" fill="#000" fill-opacity="0.17"/><rect x="332.2" y="296.8" width="0.9" height="36.0" fill="#000" fill-opacity="0.10"/><rect x="250.4" y="296.6" width="1.0" height="32.9" fill="#000" fill-opacity="0.04"/><rect x="295.0" y="295.4" width="1.3" height="41.6" fill="#000" fill-opacity="0.19"/><rect x="171.4" y="297.2" width="0.7" height="22.4" fill="#000" fill-opacity="0.19"/><rect x="325.5" y="296.7" width="0.9" height="39.8" fill="#000" fill-opacity="0.05"/><rect x="133.4" y="290.8" width="1.3" height="44.5" fill="#000" fill-opacity="0.04"/><rect x="200.0" y="288.0" width="0.9" height="44.3" fill="#000" fill-opacity="0.14"/><rect x="199.1" y="286.9" width="1.0" height="46.3" fill="#fff" fill-opacity="0.03"/><rect x="176.2" y="298.6" width="0.7" height="37.0" fill="#000" fill-opacity="0.07"/><rect x="260.1" y="298.0" width="0.7" height="24.9" fill="#000" fill-opacity="0.14"/><rect x="261.8" y="294.3" width="0.9" height="32.7" fill="#000" fill-opacity="0.12"/><rect x="327.4" y="290.1" width="1.0" height="34.0" fill="#fff" fill-opacity="0.02"/><rect x="132.0" y="294.6" width="0.9" height="36.7" fill="#000" fill-opacity="0.09"/><rect x="128.7" y="298.4" width="0.7" height="26.9" fill="#fff" fill-opacity="0.06"/><rect x="310.1" y="301.3" width="1.3" height="23.7" fill="#000" fill-opacity="0.19"/><rect x="160.1" y="296.8" width="1.3" height="39.7" fill="#000" fill-opacity="0.04"/><rect x="269.9" y="286.9" width="1.0" height="38.5" fill="#000" fill-opacity="0.06"/><rect x="291.1" y="297.5" width="0.9" height="38.4" fill="#000" fill-opacity="0.19"/><rect x="340.3" y="295.6" width="0.7" height="43.6" fill="#000" fill-opacity="0.17"/><rect x="151.8" y="290.5" width="0.7" height="31.3" fill="#fff" fill-opacity="0.10"/><rect x="218.8" y="285.1" width="1.0" height="54.5" fill="#fff" fill-opacity="0.02"/><rect x="197.8" y="290.8" width="1.3" height="43.5" fill="#000" fill-opacity="0.16"/><rect x="176.7" y="287.0" width="1.0" height="41.6" fill="#000" fill-opacity="0.07"/><rect x="188.5" y="287.4" width="0.7" height="50.5" fill="#000" fill-opacity="0.09"/><rect x="186.8" y="299.4" width="0.7" height="30.0" fill="#fff" fill-opacity="0.10"/><rect x="170.5" y="297.2" width="0.7" height="24.0" fill="#000" fill-opacity="0.11"/><rect x="147.9" y="299.3" width="0.9" height="37.5" fill="#fff" fill-opacity="0.05"/><rect x="304.1" y="285.1" width="1.0" height="49.8" fill="#000" fill-opacity="0.04"/><rect x="242.6" y="301.3" width="0.7" height="35.8" fill="#fff" fill-opacity="0.04"/><rect x="344.6" y="292.5" width="0.7" height="35.9" fill="#000" fill-opacity="0.14"/><rect x="311.2" y="293.0" width="0.9" height="25.5" fill="#000" fill-opacity="0.16"/><rect x="211.0" y="295.1" width="0.7" height="42.8" fill="#fff" fill-opacity="0.05"/><rect x="282.5" y="298.8" width="1.3" height="37.3" fill="#000" fill-opacity="0.10"/><rect x="350.8" y="297.9" width="0.9" height="39.8" fill="#000" fill-opacity="0.07"/><rect x="309.9" y="286.3" width="1.3" height="39.8" fill="#000" fill-opacity="0.08"/><rect x="219.7" y="289.9" width="0.7" height="42.8" fill="#000" fill-opacity="0.16"/><rect x="122.4" y="296.7" width="1.3" height="22.1" fill="#000" fill-opacity="0.07"/><rect x="108.0" y="299.1" width="1.3" height="40.1" fill="#fff" fill-opacity="0.04"/><rect x="331.2" y="300.9" width="0.9" height="17.7" fill="#000" fill-opacity="0.05"/><rect x="135.9" y="296.1" width="0.9" height="29.2" fill="#fff" fill-opacity="0.06"/><rect x="344.8" y="296.9" width="0.7" height="23.0" fill="#fff" fill-opacity="0.05"/><rect x="178.6" y="300.4" width="1.3" height="29.6" fill="#000" fill-opacity="0.08"/><rect x="244.2" y="289.5" width="1.3" height="40.5" fill="#fff" fill-opacity="0.06"/><rect x="278.1" y="285.1" width="1.3" height="49.8" fill="#fff" fill-opacity="0.08"/><rect x="161.8" y="290.2" width="0.9" height="45.5" fill="#fff" fill-opacity="0.05"/><rect x="189.0" y="285.4" width="1.3" height="39.2" fill="#fff" fill-opacity="0.03"/><rect x="327.8" y="294.7" width="1.3" height="29.4" fill="#000" fill-opacity="0.09"/><rect x="144.7" y="300.8" width="1.3" height="18.9" fill="#fff" fill-opacity="0.04"/><rect x="256.7" y="286.7" width="1.0" height="42.6" fill="#000" fill-opacity="0.06"/><rect x="190.3" y="293.4" width="0.9" height="37.0" fill="#000" fill-opacity="0.05"/><rect x="287.1" y="287.0" width="1.0" height="50.5" fill="#000" fill-opacity="0.08"/><rect x="171.7" y="298.3" width="1.0" height="36.0" fill="#000" fill-opacity="0.04"/><rect x="165.9" y="287.8" width="1.0" height="47.5" fill="#000" fill-opacity="0.18"/><rect x="330.0" y="299.2" width="0.7" height="31.8" fill="#000" fill-opacity="0.10"/><rect x="134.0" y="292.8" width="1.3" height="40.5" fill="#000" fill-opacity="0.14"/><rect x="109.8" y="292.0" width="1.3" height="35.1" fill="#000" fill-opacity="0.08"/><rect x="338.4" y="286.9" width="0.7" height="32.5" fill="#fff" fill-opacity="0.08"/><rect x="178.6" y="293.9" width="0.7" height="36.0" fill="#000" fill-opacity="0.15"/><rect x="171.1" y="291.9" width="1.3" height="32.8" fill="#000" fill-opacity="0.04"/><rect x="291.1" y="293.8" width="1.3" height="44.1" fill="#000" fill-opacity="0.14"/><rect x="337.0" y="290.3" width="1.3" height="41.1" fill="#fff" fill-opacity="0.05"/><rect x="123.0" y="292.2" width="1.3" height="39.4" fill="#fff" fill-opacity="0.03"/><rect x="225.0" y="296.7" width="1.0" height="31.2" fill="#000" fill-opacity="0.06"/><rect x="169.7" y="293.4" width="0.9" height="36.4" fill="#000" fill-opacity="0.15"/><rect x="207.3" y="298.3" width="1.0" height="38.1" fill="#000" fill-opacity="0.07"/><rect x="208.7" y="299.4" width="1.3" height="30.0" fill="#000" fill-opacity="0.14"/><rect x="340.2" y="287.0" width="1.0" height="48.0" fill="#fff" fill-opacity="0.09"/><rect x="173.9" y="297.8" width="1.3" height="24.1" fill="#fff" fill-opacity="0.05"/><rect x="293.0" y="286.7" width="0.7" height="50.2" fill="#000" fill-opacity="0.09"/><rect x="186.9" y="302.0" width="0.7" height="25.0" fill="#000" fill-opacity="0.07"/><rect x="337.0" y="298.4" width="1.3" height="39.3" fill="#fff" fill-opacity="0.05"/><rect x="159.4" y="285.5" width="1.0" height="45.0" fill="#000" fill-opacity="0.15"/><rect x="183.4" y="291.2" width="1.3" height="28.5" fill="#fff" fill-opacity="0.08"/><rect x="131.8" y="294.1" width="1.3" height="25.7" fill="#000" fill-opacity="0.08"/><rect x="239.8" y="301.5" width="0.9" height="25.9" fill="#000" fill-opacity="0.20"/><rect x="136.5" y="296.2" width="0.9" height="25.8" fill="#000" fill-opacity="0.17"/><rect x="234.4" y="287.4" width="1.3" height="31.8" fill="#000" fill-opacity="0.13"/><rect x="301.0" y="295.8" width="0.9" height="27.8" fill="#000" fill-opacity="0.08"/><rect x="219.9" y="297.9" width="0.9" height="33.4" fill="#000" fill-opacity="0.11"/><rect x="338.7" y="298.1" width="0.9" height="29.7" fill="#fff" fill-opacity="0.03"/><rect x="125.6" y="292.6" width="0.9" height="39.0" fill="#000" fill-opacity="0.12"/><rect x="177.2" y="300.0" width="0.7" height="31.8" fill="#000" fill-opacity="0.13"/><rect x="154.6" y="285.4" width="1.3" height="45.3" fill="#000" fill-opacity="0.12"/><rect x="319.7" y="300.6" width="1.0" height="23.6" fill="#fff" fill-opacity="0.04"/><rect x="233.1" y="290.0" width="0.9" height="36.1" fill="#000" fill-opacity="0.07"/><rect x="339.0" y="285.6" width="0.9" height="43.2" fill="#000" fill-opacity="0.18"/>
<rect x="103.4" y="276" width="3" height="62" fill="#000" fill-opacity="0.3"/>
<rect x="122.2" y="281" width="2.2" height="56" fill="#000" fill-opacity="0.35"/>
<rect x="103.4" y="276.0" width="267.7" height="6.2" fill="url(#gTop)"/>
<rect x="103.4" y="326" width="267.7" height="17.7" fill="url(#gBot)"/>
<rect x="352.3" y="301.5" width="18.8" height="42.2" fill="#2e2e2e"/>
</g>
<line x1="334.40" y1="320.10" x2="350.20" y2="305.00" stroke="#fff" stroke-width="1.8" stroke-linecap="round"/>
<path d="M351.4,303.8 L345.6,303.4 L346.8,305.4 L349.2,307.8 L351.1,309.2 Z" fill="#fff" stroke="#fff" stroke-width="0.8" stroke-linejoin="round"/>
<text x="107.30" y="336.60" font-size="10" text-anchor="start" font-weight="bold" fill="#a0de7c" textLength="87.0" lengthAdjust="spacingAndGlyphs">SYTOX green-DNA</text>
<g filter="url(#nzK)">
<rect x="103.5" y="346.2" width="137.3" height="67.6" fill="#727272"/>
<rect x="103.5" y="349" width="137.3" height="20" fill="url(#gUp2)"/>
<rect x="193.6" y="360.4" width="1.3" height="48.8" fill="#000" fill-opacity="0.30"/><rect x="172.4" y="366.2" width="0.7" height="39.2" fill="#fff" fill-opacity="0.11"/><rect x="103.7" y="367.8" width="1.0" height="40.3" fill="#fff" fill-opacity="0.12"/><rect x="168.7" y="354.4" width="0.9" height="44.1" fill="#000" fill-opacity="0.15"/><rect x="216.5" y="365.0" width="0.9" height="36.5" fill="#000" fill-opacity="0.36"/><rect x="131.4" y="356.7" width="1.0" height="39.4" fill="#000" fill-opacity="0.17"/><rect x="203.7" y="359.5" width="1.3" height="45.7" fill="#000" fill-opacity="0.30"/><rect x="225.1" y="362.6" width="1.3" height="32.4" fill="#fff" fill-opacity="0.04"/><rect x="207.9" y="354.1" width="1.3" height="48.7" fill="#000" fill-opacity="0.22"/><rect x="142.9" y="353.5" width="1.3" height="54.6" fill="#000" fill-opacity="0.26"/><rect x="201.1" y="369.0" width="0.7" height="36.5" fill="#000" fill-opacity="0.21"/><rect x="172.0" y="371.4" width="0.9" height="35.5" fill="#fff" fill-opacity="0.10"/><rect x="115.7" y="356.4" width="1.3" height="38.7" fill="#fff" fill-opacity="0.07"/><rect x="222.3" y="359.8" width="0.7" height="48.3" fill="#000" fill-opacity="0.29"/><rect x="133.1" y="360.1" width="1.3" height="42.6" fill="#000" fill-opacity="0.16"/><rect x="175.0" y="356.0" width="1.0" height="50.7" fill="#000" fill-opacity="0.34"/><rect x="228.5" y="367.9" width="1.3" height="34.2" fill="#000" fill-opacity="0.14"/><rect x="182.8" y="366.3" width="0.7" height="43.4" fill="#fff" fill-opacity="0.12"/><rect x="218.0" y="359.3" width="1.3" height="37.3" fill="#000" fill-opacity="0.12"/><rect x="142.8" y="352.1" width="1.3" height="45.4" fill="#000" fill-opacity="0.30"/><rect x="199.0" y="361.3" width="1.0" height="47.8" fill="#000" fill-opacity="0.35"/><rect x="170.0" y="359.4" width="1.0" height="52.4" fill="#000" fill-opacity="0.22"/><rect x="213.0" y="361.0" width="1.3" height="49.6" fill="#fff" fill-opacity="0.10"/><rect x="163.5" y="368.5" width="1.0" height="30.4" fill="#fff" fill-opacity="0.12"/><rect x="209.3" y="361.7" width="1.0" height="34.7" fill="#fff" fill-opacity="0.15"/><rect x="159.0" y="358.4" width="0.7" height="51.1" fill="#000" fill-opacity="0.28"/><rect x="120.3" y="362.4" width="0.7" height="34.0" fill="#fff" fill-opacity="0.12"/><rect x="167.5" y="360.9" width="1.0" height="36.7" fill="#000" fill-opacity="0.25"/><rect x="235.7" y="362.3" width="0.7" height="47.6" fill="#000" fill-opacity="0.10"/><rect x="154.8" y="360.3" width="1.3" height="37.4" fill="#fff" fill-opacity="0.09"/><rect x="132.0" y="365.6" width="0.7" height="37.2" fill="#000" fill-opacity="0.23"/><rect x="108.3" y="371.3" width="0.7" height="35.6" fill="#000" fill-opacity="0.35"/><rect x="145.7" y="361.2" width="1.0" height="48.9" fill="#000" fill-opacity="0.11"/><rect x="173.1" y="369.7" width="0.9" height="32.4" fill="#000" fill-opacity="0.20"/><rect x="161.6" y="354.6" width="0.7" height="47.8" fill="#000" fill-opacity="0.19"/><rect x="185.7" y="363.8" width="1.3" height="34.2" fill="#fff" fill-opacity="0.09"/><rect x="180.9" y="363.8" width="0.7" height="43.1" fill="#fff" fill-opacity="0.05"/><rect x="188.9" y="357.7" width="0.7" height="48.5" fill="#000" fill-opacity="0.17"/><rect x="198.2" y="362.6" width="1.3" height="49.4" fill="#000" fill-opacity="0.27"/><rect x="219.0" y="355.5" width="1.0" height="47.5" fill="#000" fill-opacity="0.11"/><rect x="163.2" y="357.5" width="1.0" height="53.2" fill="#000" fill-opacity="0.36"/><rect x="156.7" y="369.1" width="0.9" height="42.8" fill="#fff" fill-opacity="0.16"/><rect x="177.4" y="359.1" width="1.3" height="38.9" fill="#fff" fill-opacity="0.14"/><rect x="146.5" y="355.9" width="1.3" height="41.7" fill="#fff" fill-opacity="0.10"/><rect x="130.0" y="355.9" width="1.3" height="46.0" fill="#000" fill-opacity="0.28"/><rect x="107.1" y="354.3" width="0.7" height="50.2" fill="#000" fill-opacity="0.26"/><rect x="125.6" y="370.7" width="1.3" height="25.1" fill="#fff" fill-opacity="0.11"/><rect x="131.4" y="370.4" width="1.0" height="41.4" fill="#000" fill-opacity="0.15"/><rect x="165.7" y="352.6" width="0.9" height="44.4" fill="#fff" fill-opacity="0.14"/><rect x="119.8" y="370.0" width="1.0" height="35.8" fill="#000" fill-opacity="0.16"/><rect x="126.5" y="357.4" width="0.9" height="38.7" fill="#000" fill-opacity="0.37"/><rect x="217.8" y="367.3" width="0.9" height="35.6" fill="#000" fill-opacity="0.30"/><rect x="203.2" y="370.2" width="1.3" height="34.2" fill="#000" fill-opacity="0.11"/><rect x="169.5" y="365.8" width="0.9" height="29.3" fill="#fff" fill-opacity="0.05"/><rect x="137.2" y="359.4" width="1.3" height="51.9" fill="#fff" fill-opacity="0.14"/><rect x="103.8" y="370.9" width="1.0" height="32.9" fill="#000" fill-opacity="0.27"/><rect x="220.0" y="367.8" width="0.9" height="32.2" fill="#000" fill-opacity="0.26"/><rect x="130.6" y="370.2" width="0.7" height="34.4" fill="#000" fill-opacity="0.14"/><rect x="194.1" y="363.7" width="0.9" height="36.1" fill="#000" fill-opacity="0.36"/><rect x="119.7" y="363.8" width="1.3" height="43.1" fill="#000" fill-opacity="0.21"/><rect x="145.2" y="357.1" width="1.3" height="48.1" fill="#000" fill-opacity="0.28"/><rect x="195.7" y="364.8" width="0.7" height="39.9" fill="#000" fill-opacity="0.25"/><rect x="186.0" y="365.1" width="1.0" height="35.2" fill="#000" fill-opacity="0.34"/><rect x="186.0" y="358.7" width="0.9" height="39.6" fill="#000" fill-opacity="0.26"/><rect x="218.3" y="370.3" width="0.7" height="27.8" fill="#fff" fill-opacity="0.15"/><rect x="141.3" y="368.5" width="1.0" height="31.1" fill="#000" fill-opacity="0.11"/><rect x="136.6" y="364.1" width="1.3" height="47.0" fill="#000" fill-opacity="0.16"/><rect x="168.9" y="361.7" width="1.3" height="35.8" fill="#000" fill-opacity="0.10"/><rect x="238.2" y="360.0" width="0.9" height="45.2" fill="#000" fill-opacity="0.28"/><rect x="148.6" y="365.7" width="0.9" height="35.6" fill="#000" fill-opacity="0.29"/><rect x="200.2" y="366.1" width="0.7" height="32.8" fill="#000" fill-opacity="0.37"/><rect x="160.3" y="361.6" width="0.9" height="47.9" fill="#000" fill-opacity="0.22"/><rect x="231.6" y="360.9" width="0.9" height="43.8" fill="#000" fill-opacity="0.29"/><rect x="233.8" y="353.7" width="1.3" height="54.5" fill="#000" fill-opacity="0.32"/><rect x="220.7" y="354.9" width="0.9" height="48.3" fill="#000" fill-opacity="0.32"/><rect x="216.4" y="353.3" width="0.9" height="49.0" fill="#000" fill-opacity="0.31"/><rect x="149.0" y="367.4" width="1.0" height="36.6" fill="#000" fill-opacity="0.37"/><rect x="170.8" y="361.9" width="1.0" height="44.3" fill="#fff" fill-opacity="0.18"/><rect x="146.9" y="362.0" width="0.9" height="33.7" fill="#000" fill-opacity="0.16"/><rect x="236.0" y="356.6" width="1.3" height="49.8" fill="#000" fill-opacity="0.25"/><rect x="225.7" y="361.5" width="1.0" height="39.1" fill="#000" fill-opacity="0.21"/><rect x="146.4" y="367.8" width="1.0" height="31.2" fill="#000" fill-opacity="0.36"/><rect x="151.8" y="357.0" width="1.3" height="43.0" fill="#000" fill-opacity="0.24"/><rect x="189.4" y="352.9" width="0.7" height="53.5" fill="#fff" fill-opacity="0.09"/><rect x="123.3" y="370.6" width="1.0" height="28.2" fill="#000" fill-opacity="0.09"/><rect x="225.5" y="360.5" width="1.0" height="34.6" fill="#000" fill-opacity="0.24"/><rect x="156.8" y="353.8" width="1.0" height="42.9" fill="#000" fill-opacity="0.22"/><rect x="227.4" y="370.2" width="1.0" height="27.4" fill="#000" fill-opacity="0.21"/><rect x="234.8" y="352.1" width="1.3" height="51.0" fill="#fff" fill-opacity="0.12"/><rect x="113.7" y="371.8" width="0.9" height="25.0" fill="#000" fill-opacity="0.23"/><rect x="156.6" y="355.8" width="1.3" height="50.6" fill="#000" fill-opacity="0.19"/><rect x="123.6" y="352.6" width="1.3" height="44.5" fill="#000" fill-opacity="0.37"/><rect x="167.3" y="363.2" width="1.3" height="47.0" fill="#000" fill-opacity="0.15"/><rect x="170.0" y="357.1" width="1.0" height="42.5" fill="#000" fill-opacity="0.21"/><rect x="195.0" y="361.4" width="0.9" height="34.5" fill="#fff" fill-opacity="0.10"/><rect x="217.6" y="363.9" width="0.9" height="34.7" fill="#000" fill-opacity="0.31"/><rect x="162.0" y="356.5" width="1.3" height="54.6" fill="#000" fill-opacity="0.34"/><rect x="164.1" y="355.3" width="0.7" height="45.9" fill="#000" fill-opacity="0.17"/><rect x="237.1" y="358.5" width="0.9" height="52.3" fill="#fff" fill-opacity="0.08"/><rect x="192.9" y="370.2" width="0.7" height="36.4" fill="#000" fill-opacity="0.19"/><rect x="210.6" y="369.0" width="1.3" height="32.5" fill="#000" fill-opacity="0.16"/><rect x="159.7" y="370.9" width="0.7" height="34.2" fill="#000" fill-opacity="0.09"/><rect x="209.4" y="370.2" width="1.3" height="32.1" fill="#000" fill-opacity="0.11"/><rect x="239.6" y="359.4" width="0.7" height="42.3" fill="#000" fill-opacity="0.17"/><rect x="134.5" y="355.1" width="1.0" height="45.5" fill="#000" fill-opacity="0.13"/><rect x="224.0" y="370.6" width="1.3" height="25.2" fill="#000" fill-opacity="0.11"/><rect x="171.3" y="371.3" width="0.9" height="25.2" fill="#000" fill-opacity="0.23"/><rect x="170.0" y="365.6" width="1.3" height="37.4" fill="#000" fill-opacity="0.32"/><rect x="230.3" y="364.4" width="0.9" height="40.6" fill="#fff" fill-opacity="0.15"/><rect x="173.5" y="366.1" width="1.0" height="38.6" fill="#000" fill-opacity="0.33"/><rect x="221.4" y="363.2" width="0.7" height="47.8" fill="#000" fill-opacity="0.15"/><rect x="238.3" y="355.7" width="1.0" height="49.2" fill="#000" fill-opacity="0.35"/><rect x="186.6" y="366.2" width="1.3" height="31.2" fill="#000" fill-opacity="0.27"/><rect x="203.9" y="358.4" width="1.0" height="41.1" fill="#fff" fill-opacity="0.08"/><rect x="157.5" y="364.2" width="0.9" height="44.0" fill="#000" fill-opacity="0.10"/><rect x="118.4" y="363.6" width="0.7" height="41.5" fill="#000" fill-opacity="0.38"/><rect x="171.2" y="360.4" width="1.0" height="42.6" fill="#000" fill-opacity="0.28"/><rect x="138.6" y="368.9" width="0.9" height="42.9" fill="#000" fill-opacity="0.25"/><rect x="119.1" y="354.6" width="1.0" height="52.8" fill="#000" fill-opacity="0.27"/><rect x="184.5" y="356.7" width="0.7" height="39.2" fill="#fff" fill-opacity="0.15"/>
<rect x="103.5" y="346.2" width="3" height="67.6" fill="#000" fill-opacity="0.3"/>
<rect x="103.5" y="346.2" width="137.3" height="4" fill="url(#gTop2)"/>
<rect x="103.5" y="398" width="137.3" height="15.8" fill="url(#gBot2)"/>
<rect x="240.8" y="346.2" width="68.2" height="67.6" fill="#2c2c2c"/>
<rect x="240.8" y="346.2" width="68.2" height="13" fill="url(#gTop3)"/>
<rect x="240.8" y="348.5" width="7.5" height="11" fill="#686868"/>
</g>
<line x1="260.10" y1="381.20" x2="244.30" y2="366.40" stroke="#fff" stroke-width="1.8" stroke-linecap="round"/>
<path d="M243.1,365.2 L248.6,364.3 L246.6,366.4 L244.6,368.4 L243.3,369.8 Z" fill="#fff" stroke="#fff" stroke-width="0.8" stroke-linejoin="round"/>
<text x="108.00" y="409.90" font-size="10" text-anchor="start" font-weight="bold" fill="#ee62a4" >YOYO-1-DNA</text>
<text x="0.00" y="0.00" font-size="11" text-anchor="middle" font-weight="normal" fill="#222" stroke="#222" stroke-width="0.22" transform="translate(84.8,336.3) rotate(-90)">flow direction</text>
<line x1="91.40" y1="308.70" x2="91.40" y2="361.00" stroke="#111" stroke-width="1.6" />
<path d="M91.4,366.6 L87.6,358.3 L91.4,360.6 L95.2,358.3 Z" fill="#111"/>
</g>
<g id="pe">
<text x="399.20" y="243.50" font-size="17" text-anchor="start" font-weight="bold" fill="#111" >e</text>
<polyline points="452.2,237.1 452.8,237.1 453.4,247.3 454.0,249.0 454.6,237.1 455.3,237.1 455.9,237.1 456.5,253.5 457.1,247.7 457.7,237.1 458.3,237.1 458.9,237.1 459.5,242.1 460.2,240.2 460.8,251.2 461.4,264.9 462.0,253.9 462.6,250.1 463.2,237.1 463.8,255.4 464.4,240.5 465.1,270.3 465.7,242.6 466.3,253.2 466.9,263.8 467.5,256.4 468.1,243.0 468.7,261.4 469.3,241.7 470.0,237.1 470.6,237.1 471.2,237.1 471.8,276.7 472.4,253.1 473.0,268.5 473.6,254.7 474.2,267.8 474.9,265.8 475.5,262.4 476.1,278.2 476.7,268.2 477.3,280.5 477.9,239.2 478.5,277.0 479.1,270.2 479.8,296.8 480.4,292.8 481.0,283.5 481.6,259.5 482.2,260.1 482.8,267.5 483.4,281.4 484.0,244.6 484.7,287.4 485.3,284.9 485.9,265.0 486.5,286.9 487.1,268.2 487.7,257.8 488.3,273.2 488.9,266.1 489.6,271.6 490.2,282.2 490.8,319.2 491.4,290.3 492.0,272.3 492.6,296.5 493.2,280.5 493.8,269.1 494.5,252.3 495.1,292.5 495.7,280.0 496.3,268.8 496.9,264.4 497.5,292.7 498.1,244.5 498.7,284.3 499.4,256.0 500.0,275.2 500.6,266.1 501.2,247.3 501.8,261.6 502.4,270.2 503.0,287.1 503.6,281.9 504.3,293.4 504.9,242.1 505.5,295.3 506.1,310.5 506.7,247.6 507.3,253.0 507.9,277.4 508.5,259.5 509.2,284.3 509.8,280.6 510.4,264.5 511.0,266.1 511.6,278.8 512.2,247.7 512.8,260.9 513.4,269.8 514.1,289.5 514.7,269.8 515.3,276.6 515.9,272.9 516.5,259.8 517.1,280.4 517.7,267.8 518.4,259.8 519.0,266.4 519.6,237.3 520.2,297.8 520.8,272.6 521.4,289.4 522.0,272.6 522.6,237.1 523.3,296.1 523.9,276.0 524.5,261.8 525.1,270.3 525.7,258.1 526.3,295.2 526.9,257.3 527.5,286.3 528.2,290.3 528.8,263.7 529.4,265.1 530.0,283.3 530.6,284.7 531.2,275.5 531.8,272.7 532.4,275.2 533.1,287.9 533.7,307.6 534.3,253.2 534.9,270.3 535.5,291.6 536.1,296.7 536.7,283.6 537.3,279.5 538.0,305.3 538.6,252.5 539.2,267.1 539.8,278.4 540.4,268.4 541.0,270.3 541.6,257.9 542.2,271.7 542.9,255.2 543.5,251.0 544.1,279.1 544.7,281.3 545.3,287.9 545.9,278.2 546.5,285.8 547.1,274.8 547.8,270.5 548.4,267.2 549.0,292.7 549.6,259.2 550.2,280.3 550.8,277.4 551.4,283.6 552.0,306.0 552.7,272.3 553.3,302.8 553.9,259.7 554.5,275.9 555.1,253.1 555.7,266.9 556.3,266.2 556.9,255.9 557.6,277.7 558.2,254.0 558.8,279.2 559.4,273.5 560.0,287.6 560.6,269.4 561.2,267.6 561.8,285.4 562.5,297.2 563.1,278.6 563.7,271.8 564.3,280.6 564.9,293.0 565.5,289.3 566.1,282.6 566.7,318.2 567.4,287.6 568.0,257.3 568.6,298.3 569.2,282.4 569.8,253.9 570.4,268.7 571.0,265.7 571.6,281.8 572.3,299.5 572.9,237.1 573.5,275.0 574.1,275.9 574.7,254.8 575.3,267.3 575.9,278.5 576.5,296.0 577.2,281.7 577.8,281.6 578.4,289.5 579.0,292.3 579.6,294.3 580.2,281.0 580.8,288.1 581.4,273.0 582.1,263.9 582.7,274.4 583.3,278.8 583.9,255.6 584.5,269.2 585.1,301.2 585.7,289.8 586.3,276.0 587.0,292.0 587.6,267.2 588.2,304.9 588.8,307.1 589.4,263.5 590.0,269.4 590.6,302.1 591.2,276.8 591.9,257.6 592.5,294.4 593.1,295.4 593.7,295.7 594.3,292.1 594.9,303.2 595.5,284.3 596.2,298.7 596.8,275.8 597.4,243.0 598.0,292.3 598.6,262.7 599.2,258.7 599.8,310.8 600.4,274.3 601.1,276.0 601.7,280.8 602.3,263.6 602.9,282.1 603.5,270.0 604.1,281.0 604.7,277.1 605.3,286.7 606.0,240.6 606.6,275.5 607.2,291.4 607.8,245.1 608.4,250.5 609.0,277.1 609.6,283.8 610.2,284.9 610.9,255.1 611.5,278.5 612.1,284.1 612.7,260.6 613.3,277.2 613.9,273.8 614.5,243.8 615.1,259.8 615.8,253.9 616.4,266.3 617.0,253.1 617.6,274.9 618.2,257.7 618.8,256.3 619.4,278.1 620.0,291.1 620.7,263.6 621.3,273.4 621.9,262.3 622.5,280.4 623.1,263.2 623.7,256.6 624.3,237.1 624.9,244.0 625.6,264.8 626.2,249.0 626.8,279.9 627.4,252.7 628.0,268.2 628.6,250.2 629.2,265.0 629.8,273.4 630.5,280.5 631.1,250.8 631.7,268.7 632.3,258.8 632.9,262.2 633.5,300.0 634.1,260.1 634.7,274.7 635.4,263.1 636.0,261.6 636.6,295.9 637.2,273.4 637.8,269.4 638.4,262.6 639.0,254.2" fill="none" stroke="#858585" stroke-width="0.6"/>
<polyline points="452.2,295.8 452.8,290.9 453.4,280.4 454.0,316.2 454.6,265.9 455.3,306.6 455.9,276.3 456.5,294.1 457.1,271.1 457.7,284.4 458.3,300.9 458.9,325.6 459.5,301.4 460.2,300.1 460.8,298.4 461.4,325.1 462.0,320.4 462.6,321.2 463.2,307.7 463.8,325.3 464.4,316.1 465.1,302.9 465.7,323.2 466.3,299.8 466.9,316.0 467.5,325.0 468.1,307.6 468.7,317.4 469.3,329.8 470.0,335.4 470.6,329.2 471.2,319.4 471.8,307.7 472.4,319.3 473.0,331.1 473.6,340.5 474.2,317.7 474.9,315.1 475.5,304.2 476.1,326.8 476.7,337.0 477.3,306.5 477.9,320.0 478.5,324.6 479.1,284.6 479.8,295.8 480.4,307.8 481.0,305.2 481.6,320.0 482.2,296.1 482.8,316.5 483.4,317.1 484.0,315.4 484.7,327.6 485.3,297.7 485.9,289.1 486.5,302.2 487.1,341.9 487.7,318.0 488.3,323.1 488.9,309.4 489.6,343.6 490.2,343.9 490.8,321.9 491.4,301.9 492.0,318.4 492.6,287.4 493.2,327.9 493.8,315.7 494.5,318.4 495.1,328.1 495.7,301.1 496.3,335.3 496.9,331.7 497.5,322.1 498.1,323.9 498.7,301.5 499.4,325.0 500.0,310.9 500.6,324.7 501.2,300.6 501.8,319.0 502.4,315.3 503.0,342.2 503.6,309.7 504.3,328.8 504.9,307.7 505.5,313.3 506.1,313.0 506.7,305.2 507.3,315.9 507.9,333.8 508.5,319.5 509.2,319.6 509.8,338.8 510.4,314.0 511.0,302.5 511.6,320.0 512.2,322.1 512.8,317.6 513.4,309.1 514.1,332.4 514.7,311.8 515.3,335.9 515.9,318.4 516.5,319.0 517.1,344.6 517.7,317.8 518.4,324.3 519.0,351.0 519.6,334.4 520.2,337.2 520.8,341.2 521.4,323.3 522.0,340.6 522.6,329.1 523.3,345.4 523.9,334.3 524.5,305.3 525.1,325.3 525.7,353.0 526.3,344.6 526.9,333.6 527.5,354.6 528.2,318.3 528.8,332.8 529.4,333.4 530.0,331.9 530.6,342.3 531.2,349.0 531.8,361.7 532.4,356.0 533.1,330.3 533.7,324.2 534.3,336.5 534.9,359.8 535.5,339.1 536.1,334.0 536.7,352.9 537.3,315.8 538.0,350.8 538.6,335.4 539.2,351.0 539.8,323.3 540.4,354.0 541.0,349.2 541.6,321.4 542.2,354.9 542.9,345.1 543.5,330.3 544.1,333.2 544.7,363.0 545.3,330.3 545.9,343.2 546.5,322.3 547.1,363.9 547.8,329.3 548.4,334.6 549.0,345.9 549.6,346.8 550.2,335.8 550.8,351.1 551.4,346.6 552.0,352.8 552.7,340.5 553.3,333.3 553.9,365.3 554.5,342.9 555.1,339.3 555.7,322.9 556.3,354.6 556.9,326.9 557.6,351.0 558.2,338.3 558.8,342.3 559.4,341.9 560.0,350.8 560.6,360.1 561.2,325.8 561.8,326.6 562.5,348.9 563.1,349.9 563.7,350.8 564.3,366.8 564.9,364.0 565.5,343.0 566.1,335.8 566.7,352.5 567.4,362.7 568.0,364.9 568.6,358.7 569.2,340.6 569.8,350.0 570.4,370.9 571.0,367.4 571.6,346.8 572.3,347.5 572.9,327.3 573.5,332.0 574.1,349.8 574.7,362.2 575.3,350.1 575.9,369.1 576.5,363.0 577.2,339.6 577.8,345.4 578.4,341.3 579.0,332.6 579.6,360.5 580.2,343.8 580.8,354.2 581.4,351.2 582.1,352.7 582.7,348.6 583.3,375.8 583.9,375.9 584.5,355.8 585.1,350.6 585.7,364.4 586.3,359.4 587.0,377.9 587.6,345.1 588.2,352.5 588.8,338.2 589.4,365.2 590.0,361.1 590.6,359.1 591.2,341.3 591.9,352.8 592.5,355.5 593.1,384.3 593.7,373.6 594.3,382.5 594.9,364.7 595.5,350.3 596.2,361.7 596.8,375.5 597.4,334.4 598.0,378.3 598.6,343.8 599.2,347.0 599.8,359.8 600.4,344.7 601.1,379.0 601.7,371.7 602.3,368.3 602.9,359.1 603.5,366.9 604.1,340.7 604.7,370.1 605.3,368.1 606.0,382.0 606.6,358.6 607.2,354.3 607.8,376.1 608.4,383.3 609.0,385.2 609.6,349.6 610.2,355.0 610.9,362.2 611.5,355.6 612.1,359.5 612.7,360.0 613.3,389.1 613.9,359.3 614.5,356.8 615.1,350.8 615.8,353.3 616.4,376.4 617.0,363.3 617.6,386.8 618.2,347.0 618.8,386.4 619.4,357.4 620.0,378.4 620.7,378.9 621.3,380.0 621.9,372.2 622.5,362.4 623.1,352.1 623.7,372.0 624.3,356.0 624.9,355.9 625.6,339.5 626.2,376.5 626.8,363.9 627.4,358.6 628.0,366.3 628.6,359.6 629.2,377.7 629.8,373.4 630.5,377.3 631.1,377.5 631.7,381.0 632.3,370.0 632.9,385.8 633.5,376.7 634.1,360.6 634.7,390.8 635.4,383.6 636.0,374.6 636.6,383.9 637.2,383.0 637.8,342.8 638.4,364.5 639.0,375.5" fill="none" stroke="#858585" stroke-width="0.6"/>
<polyline points="452.7,262.6 455.3,262.6 457.8,264.0 460.4,263.8 462.9,264.8 465.5,265.9 468.0,266.1 470.6,267.9 473.1,269.0 475.7,269.6 478.2,270.2 480.8,271.6 483.3,272.1 485.9,273.1 488.4,272.9 491.0,272.9 493.5,273.3 496.1,273.3 498.6,273.4 501.2,272.8 503.8,272.8 506.3,272.8 508.9,272.5 511.4,273.0 514.0,272.4 516.5,272.2 519.1,271.9 521.6,272.5 524.2,272.2 526.7,273.2 529.3,272.9 531.8,273.8 534.4,273.8 536.9,273.1 539.5,274.8 542.0,273.9 544.6,274.6 547.1,275.4 549.7,275.6 552.2,276.0 554.8,276.3 557.4,277.3 559.9,277.9 562.5,278.4 565.0,279.0 567.6,279.0 570.1,279.8 572.7,279.3 575.2,280.3 577.8,279.9 580.3,279.7 582.9,280.1 585.4,278.3 588.0,279.6 590.5,278.2 593.1,277.8 595.6,276.4 598.2,277.3 600.7,275.5 603.3,275.7 605.9,274.9 608.4,274.5 611.0,273.5 613.5,273.6 616.1,272.7 618.6,272.0 621.2,270.9 623.7,272.1 626.3,270.0 628.8,269.8 631.4,269.9 633.9,269.1 636.5,269.0 639.0,267.7" fill="none" stroke="#27ad4d" stroke-width="1.4" stroke-linejoin="round"/>
<polyline points="452.7,302.9 455.3,303.2 457.8,303.5 460.4,303.4 462.9,303.0 465.5,304.0 468.0,305.1 470.6,305.0 473.1,306.0 475.7,306.4 478.2,307.0 480.8,309.1 483.3,310.8 485.9,312.5 488.4,314.7 491.0,315.3 493.5,315.6 496.1,316.7 498.6,317.4 501.2,318.6 503.8,320.0 506.3,321.1 508.9,322.1 511.4,323.6 514.0,325.0 516.5,326.9 519.1,327.6 521.6,329.3 524.2,331.2 526.7,332.5 529.3,332.4 531.8,332.8 534.4,334.3 536.9,335.0 539.5,336.1 542.0,336.9 544.6,338.8 547.1,339.3 549.7,341.0 552.2,341.8 554.8,343.4 557.4,344.8 559.9,346.6 562.5,347.5 565.0,348.6 567.6,349.4 570.1,350.6 572.7,352.0 575.2,352.7 577.8,353.5 580.3,355.0 582.9,356.4 585.4,357.6 588.0,358.4 590.5,359.8 593.1,361.6 595.6,362.1 598.2,363.1 600.7,363.9 603.3,363.8 605.9,364.7 608.4,366.0 611.0,366.0 613.5,366.2 616.1,367.0 618.6,367.1 621.2,367.2 623.7,368.5 626.3,368.0 628.8,368.0 631.4,368.3 633.9,369.2 636.5,368.7 639.0,369.4" fill="none" stroke="#e2258d" stroke-width="1.4" stroke-linejoin="round"/>
<line x1="437.60" y1="237.10" x2="437.60" y2="405.20" stroke="#3a3a3a" stroke-width="0.9" />
<line x1="437.60" y1="405.20" x2="656.80" y2="405.20" stroke="#3a3a3a" stroke-width="0.9" />
<line x1="437.60" y1="237.10" x2="440.10" y2="237.10" stroke="#3a3a3a" stroke-width="0.9" />
<text x="433.20" y="241.00" font-size="10.6" text-anchor="end" font-weight="normal" fill="#262626" stroke="#262626" stroke-width="0.22" >1.1</text>
<line x1="437.60" y1="270.66" x2="440.10" y2="270.66" stroke="#3a3a3a" stroke-width="0.9" />
<text x="433.20" y="274.56" font-size="10.6" text-anchor="end" font-weight="normal" fill="#262626" stroke="#262626" stroke-width="0.22" >1</text>
<line x1="437.60" y1="304.22" x2="440.10" y2="304.22" stroke="#3a3a3a" stroke-width="0.9" />
<text x="433.20" y="308.12" font-size="10.6" text-anchor="end" font-weight="normal" fill="#262626" stroke="#262626" stroke-width="0.22" >0.9</text>
<line x1="437.60" y1="337.78" x2="440.10" y2="337.78" stroke="#3a3a3a" stroke-width="0.9" />
<text x="433.20" y="341.68" font-size="10.6" text-anchor="end" font-weight="normal" fill="#262626" stroke="#262626" stroke-width="0.22" >0.8</text>
<line x1="437.60" y1="371.34" x2="440.10" y2="371.34" stroke="#3a3a3a" stroke-width="0.9" />
<text x="433.20" y="375.24" font-size="10.6" text-anchor="end" font-weight="normal" fill="#262626" stroke="#262626" stroke-width="0.22" >0.7</text>
<line x1="437.60" y1="404.90" x2="440.10" y2="404.90" stroke="#3a3a3a" stroke-width="0.9" />
<text x="433.20" y="408.80" font-size="10.6" text-anchor="end" font-weight="normal" fill="#262626" stroke="#262626" stroke-width="0.22" >0.6</text>
<line x1="452.70" y1="405.20" x2="452.70" y2="402.70" stroke="#3a3a3a" stroke-width="0.9" />
<text x="451.70" y="418.00" font-size="10" text-anchor="middle" font-weight="normal" fill="#262626" stroke="#262626" stroke-width="0.22" >0</text>
<line x1="503.75" y1="405.20" x2="503.75" y2="402.70" stroke="#3a3a3a" stroke-width="0.9" />
<text x="502.75" y="418.00" font-size="10" text-anchor="middle" font-weight="normal" fill="#262626" stroke="#262626" stroke-width="0.22" >10</text>
<line x1="554.80" y1="405.20" x2="554.80" y2="402.70" stroke="#3a3a3a" stroke-width="0.9" />
<text x="553.80" y="418.00" font-size="10" text-anchor="middle" font-weight="normal" fill="#262626" stroke="#262626" stroke-width="0.22" >20</text>
<line x1="605.85" y1="405.20" x2="605.85" y2="402.70" stroke="#3a3a3a" stroke-width="0.9" />
<text x="604.85" y="418.00" font-size="10" text-anchor="middle" font-weight="normal" fill="#262626" stroke="#262626" stroke-width="0.22" >30</text>
<line x1="656.90" y1="405.20" x2="656.90" y2="402.70" stroke="#3a3a3a" stroke-width="0.9" />
<text x="655.90" y="418.00" font-size="10" text-anchor="middle" font-weight="normal" fill="#262626" stroke="#262626" stroke-width="0.22" >40</text>
<text x="543.40" y="432.50" font-size="12" text-anchor="middle" font-weight="normal" fill="#262626" stroke="#262626" stroke-width="0.22" >Time, s</text>
<text x="0.00" y="0.00" font-size="12" text-anchor="middle" font-weight="normal" fill="#262626" stroke="#262626" stroke-width="0.22" transform="translate(409.8,330.1) rotate(-90)">Normalized intensity</text>
<text x="534.30" y="243.00" font-size="10" text-anchor="start" font-weight="bold" fill="#4f9c2c" textLength="87.2" lengthAdjust="spacingAndGlyphs">SYTOX-green DNA</text>
<text x="504.20" y="378.10" font-size="10" text-anchor="start" font-weight="bold" fill="#e8589c" >YOYO-1-DNA</text>
</g>
</svg>
</body></html>
